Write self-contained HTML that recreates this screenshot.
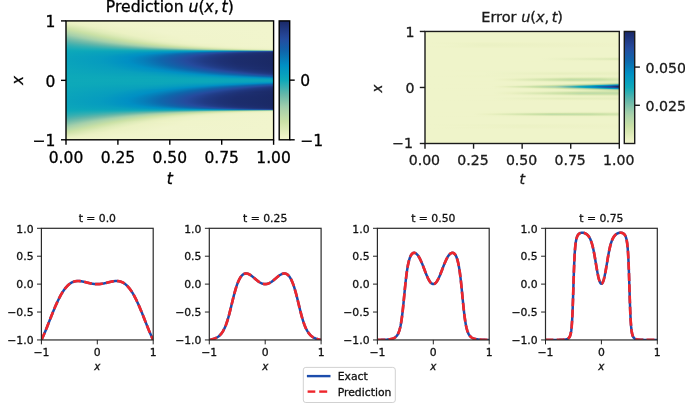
<!DOCTYPE html>
<html lang="en"><head><meta charset="utf-8"><title>Allen-Cahn prediction</title>
<style>html,body{margin:0;padding:0;background:#fff}svg{display:block}text{font-family:"DejaVu Sans","Liberation Sans",sans-serif}</style>
</head><body>
<svg width="685" height="410" viewBox="0 0 685 410">
<rect width="685" height="410" fill="#fff"/>
<defs><linearGradient id="a0"><stop offset="0" stop-color="#f0f4cb"/><stop offset="1" stop-color="#f1f5cd"/></linearGradient><linearGradient id="a1"><stop offset="0" stop-color="#edf2c6"/><stop offset="0.236" stop-color="#f1f5cc"/><stop offset="1" stop-color="#f1f5cd"/></linearGradient><linearGradient id="a2"><stop offset="0" stop-color="#e9f0c2"/><stop offset="0.101" stop-color="#eef3c8"/><stop offset="0.24" stop-color="#f0f5cc"/><stop offset="1" stop-color="#f1f5cd"/></linearGradient><linearGradient id="a3"><stop offset="0" stop-color="#e4edbc"/><stop offset="0.062" stop-color="#ebf1c3"/><stop offset="0.245" stop-color="#f0f4cb"/><stop offset="1" stop-color="#f1f5cd"/></linearGradient><linearGradient id="a4"><stop offset="0" stop-color="#deeab7"/><stop offset="0.091" stop-color="#ebf1c3"/><stop offset="0.25" stop-color="#f0f4cb"/><stop offset="1" stop-color="#f1f5cd"/></linearGradient><linearGradient id="a5"><stop offset="0" stop-color="#d8e7b2"/><stop offset="0.12" stop-color="#ebf1c3"/><stop offset="0.255" stop-color="#eff4ca"/><stop offset="1" stop-color="#f1f5cd"/></linearGradient><linearGradient id="a6"><stop offset="0" stop-color="#d2e4ac"/><stop offset="0.115" stop-color="#e7efc0"/><stop offset="0.212" stop-color="#eef3c7"/><stop offset="0.423" stop-color="#f1f5cc"/><stop offset="1" stop-color="#f1f5cd"/></linearGradient><linearGradient id="a7"><stop offset="0" stop-color="#cce1a6"/><stop offset="0.115" stop-color="#e4edbc"/><stop offset="0.173" stop-color="#ebf1c3"/><stop offset="0.216" stop-color="#edf2c6"/><stop offset="0.428" stop-color="#f0f5cc"/><stop offset="1" stop-color="#f1f5cd"/></linearGradient><linearGradient id="a8"><stop offset="0" stop-color="#c5dea7"/><stop offset="0.024" stop-color="#cce1a7"/><stop offset="0.111" stop-color="#dfebb8"/><stop offset="0.216" stop-color="#ecf2c5"/><stop offset="0.428" stop-color="#f0f5cc"/><stop offset="1" stop-color="#f1f5cd"/></linearGradient><linearGradient id="a9"><stop offset="0" stop-color="#bedba8"/><stop offset="0.043" stop-color="#cbe1a6"/><stop offset="0.135" stop-color="#dfebb8"/><stop offset="0.221" stop-color="#ebf1c3"/><stop offset="0.438" stop-color="#f0f4cc"/><stop offset="1" stop-color="#f1f5cd"/></linearGradient><linearGradient id="a10"><stop offset="0" stop-color="#b7d8a9"/><stop offset="0.067" stop-color="#cbe1a6"/><stop offset="0.154" stop-color="#dfebb8"/><stop offset="0.24" stop-color="#ebf1c3"/><stop offset="0.452" stop-color="#f0f4cc"/><stop offset="1" stop-color="#f1f5cd"/></linearGradient><linearGradient id="a11"><stop offset="0" stop-color="#b0d5aa"/><stop offset="0.087" stop-color="#cae1a6"/><stop offset="0.178" stop-color="#dfebb8"/><stop offset="0.264" stop-color="#ebf1c3"/><stop offset="0.471" stop-color="#f0f4cc"/><stop offset="1" stop-color="#f1f5cd"/></linearGradient><linearGradient id="a12"><stop offset="0" stop-color="#a9d2aa"/><stop offset="0.111" stop-color="#cbe1a6"/><stop offset="0.197" stop-color="#dfebb8"/><stop offset="0.284" stop-color="#ebf1c3"/><stop offset="0.49" stop-color="#f0f4cc"/><stop offset="1" stop-color="#f1f5cd"/></linearGradient><linearGradient id="a13"><stop offset="0" stop-color="#a1ceab"/><stop offset="0.13" stop-color="#cae1a6"/><stop offset="0.221" stop-color="#dfebb8"/><stop offset="0.308" stop-color="#ebf1c3"/><stop offset="0.51" stop-color="#f0f4cc"/><stop offset="1" stop-color="#f1f5cd"/></linearGradient><linearGradient id="a14"><stop offset="0" stop-color="#95caab"/><stop offset="0.034" stop-color="#a6d0ab"/><stop offset="0.154" stop-color="#cbe1a6"/><stop offset="0.24" stop-color="#deebb7"/><stop offset="0.327" stop-color="#ebf1c3"/><stop offset="0.529" stop-color="#f0f4cb"/><stop offset="1" stop-color="#f1f5cd"/></linearGradient><linearGradient id="a15"><stop offset="0" stop-color="#8bc6aa"/><stop offset="0.058" stop-color="#a6d0ab"/><stop offset="0.178" stop-color="#cbe1a6"/><stop offset="0.264" stop-color="#deebb8"/><stop offset="0.351" stop-color="#ebf1c3"/><stop offset="0.548" stop-color="#f0f4cb"/><stop offset="1" stop-color="#f1f5cd"/></linearGradient><linearGradient id="a16"><stop offset="0" stop-color="#80c1aa"/><stop offset="0.082" stop-color="#a6d0ab"/><stop offset="0.202" stop-color="#cbe1a6"/><stop offset="0.284" stop-color="#ddeab7"/><stop offset="0.365" stop-color="#eaf0c2"/><stop offset="0.558" stop-color="#f0f4cb"/><stop offset="1" stop-color="#f1f5cd"/></linearGradient><linearGradient id="a17"><stop offset="0" stop-color="#76bdaa"/><stop offset="0.106" stop-color="#a6d0ab"/><stop offset="0.226" stop-color="#cae1a6"/><stop offset="0.303" stop-color="#dceab6"/><stop offset="0.38" stop-color="#e8f0c1"/><stop offset="0.462" stop-color="#edf3c7"/><stop offset="0.572" stop-color="#f0f4cb"/><stop offset="1" stop-color="#f1f5cd"/></linearGradient><linearGradient id="a18"><stop offset="0" stop-color="#6cbaa9"/><stop offset="0.062" stop-color="#85c3aa"/><stop offset="0.13" stop-color="#a5d0ab"/><stop offset="0.255" stop-color="#cbe1a6"/><stop offset="0.327" stop-color="#dce9b5"/><stop offset="0.394" stop-color="#e7efbf"/><stop offset="0.447" stop-color="#ecf2c4"/><stop offset="0.587" stop-color="#f0f4cb"/><stop offset="1" stop-color="#f1f5cd"/></linearGradient><linearGradient id="a19"><stop offset="0" stop-color="#63b6a9"/><stop offset="0.077" stop-color="#7fc1aa"/><stop offset="0.159" stop-color="#a5d0ab"/><stop offset="0.284" stop-color="#cbe1a6"/><stop offset="0.413" stop-color="#e6eebe"/><stop offset="0.462" stop-color="#ebf1c3"/><stop offset="0.601" stop-color="#eff4ca"/><stop offset="1" stop-color="#f1f5cd"/></linearGradient><linearGradient id="a20"><stop offset="0" stop-color="#58b4ab"/><stop offset="0.101" stop-color="#7cc0aa"/><stop offset="0.188" stop-color="#a4d0ab"/><stop offset="0.312" stop-color="#cbe1a6"/><stop offset="0.433" stop-color="#e4eebd"/><stop offset="0.49" stop-color="#ebf1c3"/><stop offset="0.62" stop-color="#eff4ca"/><stop offset="1" stop-color="#f1f5cd"/></linearGradient><linearGradient id="a21"><stop offset="0" stop-color="#4db3ad"/><stop offset="0.062" stop-color="#63b6a9"/><stop offset="0.13" stop-color="#7bbfaa"/><stop offset="0.221" stop-color="#a5d0ab"/><stop offset="0.346" stop-color="#cbe1a6"/><stop offset="0.452" stop-color="#e2ecbb"/><stop offset="0.519" stop-color="#ebf1c3"/><stop offset="0.635" stop-color="#eff4ca"/><stop offset="1" stop-color="#f1f5cd"/></linearGradient><linearGradient id="a22"><stop offset="0" stop-color="#43b1af"/><stop offset="0.106" stop-color="#65b7a9"/><stop offset="0.178" stop-color="#80c1aa"/><stop offset="0.26" stop-color="#a6d0ab"/><stop offset="0.38" stop-color="#cae1a6"/><stop offset="0.476" stop-color="#e0ebb9"/><stop offset="0.558" stop-color="#ebf1c3"/><stop offset="0.654" stop-color="#eff3c9"/><stop offset="1" stop-color="#f1f5cd"/></linearGradient><linearGradient id="a23"><stop offset="0" stop-color="#39b0b1"/><stop offset="0.072" stop-color="#4cb2ad"/><stop offset="0.139" stop-color="#63b6a9"/><stop offset="0.216" stop-color="#7fc1aa"/><stop offset="0.298" stop-color="#a5d0ab"/><stop offset="0.418" stop-color="#cae1a6"/><stop offset="0.51" stop-color="#dfebb8"/><stop offset="0.587" stop-color="#eaf0c2"/><stop offset="0.639" stop-color="#edf2c6"/><stop offset="0.774" stop-color="#f0f4cb"/><stop offset="1" stop-color="#f1f5cd"/></linearGradient><linearGradient id="a24"><stop offset="0" stop-color="#30aeb2"/><stop offset="0.096" stop-color="#46b2ae"/><stop offset="0.188" stop-color="#64b6a9"/><stop offset="0.26" stop-color="#7ec1aa"/><stop offset="0.346" stop-color="#a6d0ab"/><stop offset="0.466" stop-color="#cbe1a6"/><stop offset="0.543" stop-color="#dceab6"/><stop offset="0.611" stop-color="#e7efc0"/><stop offset="0.663" stop-color="#ecf2c5"/><stop offset="0.793" stop-color="#f0f4cb"/><stop offset="1" stop-color="#f1f5cd"/></linearGradient><linearGradient id="a25"><stop offset="0" stop-color="#28adb4"/><stop offset="0.091" stop-color="#38afb1"/><stop offset="0.173" stop-color="#4cb3ad"/><stop offset="0.236" stop-color="#62b6a9"/><stop offset="0.303" stop-color="#7abfaa"/><stop offset="0.399" stop-color="#a6d0ab"/><stop offset="0.519" stop-color="#cbe1a6"/><stop offset="0.591" stop-color="#dbe9b5"/><stop offset="0.697" stop-color="#ebf1c3"/><stop offset="0.817" stop-color="#eff4ca"/><stop offset="1" stop-color="#f1f5cc"/></linearGradient><linearGradient id="a26"><stop offset="0" stop-color="#21acb5"/><stop offset="0.125" stop-color="#32afb2"/><stop offset="0.226" stop-color="#49b2ae"/><stop offset="0.303" stop-color="#63b6a9"/><stop offset="0.365" stop-color="#79bfaa"/><stop offset="0.462" stop-color="#a5d0ab"/><stop offset="0.587" stop-color="#cbe1a6"/><stop offset="0.649" stop-color="#dae8b3"/><stop offset="0.764" stop-color="#ebf1c3"/><stop offset="0.865" stop-color="#eff3c9"/><stop offset="1" stop-color="#f0f5cc"/></linearGradient><linearGradient id="a27"><stop offset="0" stop-color="#1aabb7"/><stop offset="0.159" stop-color="#2aadb4"/><stop offset="0.288" stop-color="#43b1af"/><stop offset="0.394" stop-color="#65b7a9"/><stop offset="0.466" stop-color="#80c1aa"/><stop offset="0.548" stop-color="#a5d0ab"/><stop offset="0.673" stop-color="#cbe1a6"/><stop offset="0.726" stop-color="#d8e7b1"/><stop offset="0.851" stop-color="#ebf1c3"/><stop offset="1" stop-color="#eff4ca"/></linearGradient><linearGradient id="a28"><stop offset="0" stop-color="#14aab8"/><stop offset="0.216" stop-color="#21acb5"/><stop offset="0.303" stop-color="#2caeb3"/><stop offset="0.375" stop-color="#39b0b1"/><stop offset="0.447" stop-color="#4bb2ad"/><stop offset="0.519" stop-color="#64b6a9"/><stop offset="0.596" stop-color="#80c1aa"/><stop offset="0.678" stop-color="#a5d0ab"/><stop offset="0.784" stop-color="#c4dea7"/><stop offset="0.808" stop-color="#cbe1a6"/><stop offset="0.889" stop-color="#dceab6"/><stop offset="1" stop-color="#ebf1c3"/></linearGradient><linearGradient id="a29"><stop offset="0" stop-color="#0fa9b9"/><stop offset="0.365" stop-color="#16aab7"/><stop offset="0.49" stop-color="#1dabb6"/><stop offset="0.591" stop-color="#28adb4"/><stop offset="0.673" stop-color="#35afb2"/><stop offset="0.745" stop-color="#45b2af"/><stop offset="0.841" stop-color="#63b6a9"/><stop offset="1" stop-color="#93c9aa"/></linearGradient><linearGradient id="a30"><stop offset="0" stop-color="#0da8b9"/><stop offset="0.38" stop-color="#0aa3bc"/><stop offset="0.62" stop-color="#0295c2"/><stop offset="0.663" stop-color="#0090c4"/><stop offset="0.764" stop-color="#0879b7"/><stop offset="0.832" stop-color="#0e67ac"/><stop offset="0.976" stop-color="#254b9d"/><stop offset="1" stop-color="#244798"/></linearGradient><linearGradient id="a31"><stop offset="0" stop-color="#0ca7ba"/><stop offset="0.293" stop-color="#08a0bd"/><stop offset="0.5" stop-color="#0090c4"/><stop offset="0.577" stop-color="#067eba"/><stop offset="0.659" stop-color="#0e67ac"/><stop offset="0.788" stop-color="#254a9c"/><stop offset="0.894" stop-color="#203880"/><stop offset="1" stop-color="#1d2e70"/></linearGradient><linearGradient id="a32"><stop offset="0" stop-color="#0ba6ba"/><stop offset="0.245" stop-color="#089fbe"/><stop offset="0.423" stop-color="#0090c4"/><stop offset="0.5" stop-color="#067eba"/><stop offset="0.577" stop-color="#0e68ad"/><stop offset="0.707" stop-color="#254a9d"/><stop offset="0.774" stop-color="#213d89"/><stop offset="0.841" stop-color="#1f347a"/><stop offset="0.923" stop-color="#1d2e6f"/><stop offset="1" stop-color="#1b2b69"/></linearGradient><linearGradient id="a33"><stop offset="0" stop-color="#0ba5bb"/><stop offset="0.212" stop-color="#079ebe"/><stop offset="0.375" stop-color="#0090c4"/><stop offset="0.452" stop-color="#067fba"/><stop offset="0.534" stop-color="#0e67ac"/><stop offset="0.659" stop-color="#254a9d"/><stop offset="0.726" stop-color="#213d88"/><stop offset="0.784" stop-color="#1f357c"/><stop offset="0.841" stop-color="#1d3073"/><stop offset="1" stop-color="#1b2a67"/></linearGradient><linearGradient id="a34"><stop offset="0" stop-color="#0ba5bb"/><stop offset="0.197" stop-color="#079dbe"/><stop offset="0.346" stop-color="#0090c4"/><stop offset="0.423" stop-color="#067eb9"/><stop offset="0.5" stop-color="#0e67ac"/><stop offset="0.625" stop-color="#254a9d"/><stop offset="0.702" stop-color="#213c86"/><stop offset="0.764" stop-color="#1f3479"/><stop offset="0.827" stop-color="#1d2e71"/><stop offset="1" stop-color="#1a2966"/></linearGradient><linearGradient id="a35"><stop offset="0" stop-color="#0aa4bb"/><stop offset="0.183" stop-color="#069cbf"/><stop offset="0.327" stop-color="#008fc4"/><stop offset="0.399" stop-color="#067fba"/><stop offset="0.481" stop-color="#0e67ac"/><stop offset="0.606" stop-color="#254a9d"/><stop offset="0.688" stop-color="#213b85"/><stop offset="0.755" stop-color="#1e3377"/><stop offset="0.827" stop-color="#1d2d6e"/><stop offset="1" stop-color="#1a2966"/></linearGradient><linearGradient id="a36"><stop offset="0" stop-color="#0aa4bb"/><stop offset="0.178" stop-color="#069cbf"/><stop offset="0.312" stop-color="#008fc4"/><stop offset="0.389" stop-color="#067eb9"/><stop offset="0.466" stop-color="#0e67ac"/><stop offset="0.591" stop-color="#254a9d"/><stop offset="0.678" stop-color="#203a84"/><stop offset="0.745" stop-color="#1e3277"/><stop offset="0.817" stop-color="#1c2d6e"/><stop offset="1" stop-color="#1a2965"/></linearGradient><linearGradient id="a37"><stop offset="0" stop-color="#0aa3bb"/><stop offset="0.168" stop-color="#069cbf"/><stop offset="0.303" stop-color="#0090c4"/><stop offset="0.38" stop-color="#067eb9"/><stop offset="0.457" stop-color="#0e67ac"/><stop offset="0.582" stop-color="#254a9d"/><stop offset="0.668" stop-color="#213a84"/><stop offset="0.736" stop-color="#1e3277"/><stop offset="0.812" stop-color="#1c2d6d"/><stop offset="1" stop-color="#1a2965"/></linearGradient><linearGradient id="a38"><stop offset="0" stop-color="#0aa3bb"/><stop offset="0.163" stop-color="#069cbf"/><stop offset="0.298" stop-color="#0090c4"/><stop offset="0.375" stop-color="#067eb9"/><stop offset="0.452" stop-color="#0e67ac"/><stop offset="0.577" stop-color="#254a9d"/><stop offset="0.668" stop-color="#203a83"/><stop offset="0.736" stop-color="#1e3276"/><stop offset="0.812" stop-color="#1c2d6d"/><stop offset="1" stop-color="#1a2965"/></linearGradient><linearGradient id="a39"><stop offset="0" stop-color="#0aa3bb"/><stop offset="0.168" stop-color="#069cbf"/><stop offset="0.298" stop-color="#0090c4"/><stop offset="0.375" stop-color="#067eb9"/><stop offset="0.452" stop-color="#0e67ac"/><stop offset="0.577" stop-color="#254a9d"/><stop offset="0.668" stop-color="#203a83"/><stop offset="0.736" stop-color="#1e3276"/><stop offset="0.812" stop-color="#1c2d6d"/><stop offset="1" stop-color="#1a2965"/></linearGradient><linearGradient id="a40"><stop offset="0" stop-color="#0aa3bb"/><stop offset="0.168" stop-color="#069cbf"/><stop offset="0.303" stop-color="#008fc4"/><stop offset="0.375" stop-color="#067fba"/><stop offset="0.452" stop-color="#0e68ad"/><stop offset="0.582" stop-color="#254a9d"/><stop offset="0.668" stop-color="#203a83"/><stop offset="0.736" stop-color="#1e3276"/><stop offset="0.812" stop-color="#1c2d6d"/><stop offset="1" stop-color="#1a2965"/></linearGradient><linearGradient id="a41"><stop offset="0" stop-color="#0aa4bb"/><stop offset="0.173" stop-color="#069cbf"/><stop offset="0.308" stop-color="#008fc4"/><stop offset="0.385" stop-color="#067eb9"/><stop offset="0.462" stop-color="#0e67ac"/><stop offset="0.587" stop-color="#254a9d"/><stop offset="0.673" stop-color="#203a84"/><stop offset="0.74" stop-color="#1e3277"/><stop offset="0.817" stop-color="#1c2d6d"/><stop offset="1" stop-color="#1a2965"/></linearGradient><linearGradient id="a42"><stop offset="0" stop-color="#0aa4bb"/><stop offset="0.178" stop-color="#069cbf"/><stop offset="0.317" stop-color="#008fc4"/><stop offset="0.389" stop-color="#067fba"/><stop offset="0.471" stop-color="#0e67ac"/><stop offset="0.596" stop-color="#254a9d"/><stop offset="0.678" stop-color="#213b85"/><stop offset="0.745" stop-color="#1e3277"/><stop offset="0.822" stop-color="#1c2d6e"/><stop offset="1" stop-color="#1a2965"/></linearGradient><linearGradient id="a43"><stop offset="0" stop-color="#0aa4bb"/><stop offset="0.183" stop-color="#079dbe"/><stop offset="0.327" stop-color="#0090c4"/><stop offset="0.404" stop-color="#067eb9"/><stop offset="0.481" stop-color="#0e67ac"/><stop offset="0.606" stop-color="#254a9d"/><stop offset="0.688" stop-color="#213b85"/><stop offset="0.755" stop-color="#1e3377"/><stop offset="0.827" stop-color="#1d2d6e"/><stop offset="1" stop-color="#1a2966"/></linearGradient><linearGradient id="a44"><stop offset="0" stop-color="#0ba5bb"/><stop offset="0.192" stop-color="#079dbe"/><stop offset="0.341" stop-color="#0090c4"/><stop offset="0.418" stop-color="#067eb9"/><stop offset="0.495" stop-color="#0e67ac"/><stop offset="0.62" stop-color="#254a9d"/><stop offset="0.697" stop-color="#213c86"/><stop offset="0.764" stop-color="#1e3378"/><stop offset="0.837" stop-color="#1d2e6f"/><stop offset="1" stop-color="#1a2966"/></linearGradient><linearGradient id="a45"><stop offset="0" stop-color="#0ba5bb"/><stop offset="0.207" stop-color="#079dbe"/><stop offset="0.361" stop-color="#008fc4"/><stop offset="0.438" stop-color="#067eb9"/><stop offset="0.514" stop-color="#0e67ac"/><stop offset="0.639" stop-color="#254a9d"/><stop offset="0.712" stop-color="#213c87"/><stop offset="0.769" stop-color="#1f357b"/><stop offset="0.832" stop-color="#1d2f71"/><stop offset="1" stop-color="#1a2a66"/></linearGradient><linearGradient id="a46"><stop offset="0" stop-color="#0ba5bb"/><stop offset="0.216" stop-color="#079ebe"/><stop offset="0.38" stop-color="#0090c4"/><stop offset="0.457" stop-color="#067eb9"/><stop offset="0.534" stop-color="#0e67ac"/><stop offset="0.659" stop-color="#254a9d"/><stop offset="0.726" stop-color="#213d89"/><stop offset="0.784" stop-color="#1f357c"/><stop offset="0.841" stop-color="#1d3073"/><stop offset="1" stop-color="#1b2a67"/></linearGradient><linearGradient id="a47"><stop offset="0" stop-color="#0ba6ba"/><stop offset="0.231" stop-color="#079ebe"/><stop offset="0.404" stop-color="#0090c4"/><stop offset="0.481" stop-color="#067eb9"/><stop offset="0.558" stop-color="#0e67ac"/><stop offset="0.683" stop-color="#254a9d"/><stop offset="0.755" stop-color="#213d87"/><stop offset="0.827" stop-color="#1e3378"/><stop offset="0.913" stop-color="#1c2d6d"/><stop offset="1" stop-color="#1b2a68"/></linearGradient><linearGradient id="a48"><stop offset="0" stop-color="#0ca6ba"/><stop offset="0.255" stop-color="#089ebe"/><stop offset="0.433" stop-color="#008fc4"/><stop offset="0.505" stop-color="#067fba"/><stop offset="0.587" stop-color="#0e67ac"/><stop offset="0.712" stop-color="#254a9d"/><stop offset="0.779" stop-color="#213d88"/><stop offset="0.846" stop-color="#1f347a"/><stop offset="0.923" stop-color="#1d2e6f"/><stop offset="1" stop-color="#1b2b69"/></linearGradient><linearGradient id="a49"><stop offset="0" stop-color="#0ca7ba"/><stop offset="0.269" stop-color="#089fbd"/><stop offset="0.462" stop-color="#0090c4"/><stop offset="0.538" stop-color="#067eba"/><stop offset="0.615" stop-color="#0e67ac"/><stop offset="0.74" stop-color="#254a9d"/><stop offset="0.808" stop-color="#213e89"/><stop offset="0.865" stop-color="#1f357c"/><stop offset="1" stop-color="#1c2c6b"/></linearGradient><linearGradient id="a50"><stop offset="0" stop-color="#0ca7ba"/><stop offset="0.298" stop-color="#08a0bd"/><stop offset="0.5" stop-color="#008fc4"/><stop offset="0.577" stop-color="#067eb9"/><stop offset="0.654" stop-color="#0e67ac"/><stop offset="0.779" stop-color="#254a9d"/><stop offset="0.885" stop-color="#20387f"/><stop offset="1" stop-color="#1d2d6e"/></linearGradient><linearGradient id="a51"><stop offset="0" stop-color="#0ca7ba"/><stop offset="0.322" stop-color="#09a0bd"/><stop offset="0.438" stop-color="#059ac0"/><stop offset="0.538" stop-color="#0090c4"/><stop offset="0.615" stop-color="#067eba"/><stop offset="0.692" stop-color="#0e68ac"/><stop offset="0.822" stop-color="#254a9c"/><stop offset="0.909" stop-color="#203a83"/><stop offset="1" stop-color="#1e3073"/></linearGradient><linearGradient id="a52"><stop offset="0" stop-color="#0ca8b9"/><stop offset="0.356" stop-color="#09a1bc"/><stop offset="0.481" stop-color="#059ac0"/><stop offset="0.587" stop-color="#0090c4"/><stop offset="0.663" stop-color="#067eba"/><stop offset="0.74" stop-color="#0e68ad"/><stop offset="0.87" stop-color="#254a9c"/><stop offset="0.938" stop-color="#213d88"/><stop offset="1" stop-color="#1f357a"/></linearGradient><linearGradient id="a53"><stop offset="0" stop-color="#0da8b9"/><stop offset="0.38" stop-color="#0aa2bc"/><stop offset="0.51" stop-color="#069cbf"/><stop offset="0.62" stop-color="#0193c3"/><stop offset="0.663" stop-color="#018cc2"/><stop offset="0.798" stop-color="#0e68ac"/><stop offset="0.923" stop-color="#254b9d"/><stop offset="1" stop-color="#213c87"/></linearGradient><linearGradient id="a54"><stop offset="0" stop-color="#0da9b9"/><stop offset="0.413" stop-color="#0aa3bb"/><stop offset="0.548" stop-color="#079ebe"/><stop offset="0.663" stop-color="#0395c2"/><stop offset="0.716" stop-color="#008fc4"/><stop offset="0.827" stop-color="#0a74b4"/><stop offset="0.87" stop-color="#0e67ac"/><stop offset="1" stop-color="#25499b"/></linearGradient><linearGradient id="a55"><stop offset="0" stop-color="#0da9b9"/><stop offset="0.442" stop-color="#0ba5bb"/><stop offset="0.697" stop-color="#059ac0"/><stop offset="0.798" stop-color="#0090c4"/><stop offset="0.875" stop-color="#067eb9"/><stop offset="0.952" stop-color="#0e67ac"/><stop offset="1" stop-color="#175ca6"/></linearGradient><linearGradient id="a56"><stop offset="0" stop-color="#0da9b9"/><stop offset="0.447" stop-color="#0ca7ba"/><stop offset="0.707" stop-color="#08a0bd"/><stop offset="0.904" stop-color="#0090c4"/><stop offset="1" stop-color="#0879b6"/></linearGradient><linearGradient id="a57"><stop offset="0" stop-color="#0da9b9"/><stop offset="0.678" stop-color="#0ba5bb"/><stop offset="0.861" stop-color="#089fbd"/><stop offset="1" stop-color="#0395c2"/></linearGradient><linearGradient id="a58"><stop offset="0" stop-color="#0ea9b9"/><stop offset="0.683" stop-color="#0ca8b9"/><stop offset="1" stop-color="#09a2bc"/></linearGradient><linearGradient id="a59"><stop offset="0" stop-color="#0ea9b9"/><stop offset="1" stop-color="#0ba6ba"/></linearGradient><linearGradient id="a60"><stop offset="0" stop-color="#0ea9b9"/><stop offset="0.683" stop-color="#0ca8b9"/><stop offset="1" stop-color="#09a2bc"/></linearGradient><linearGradient id="a61"><stop offset="0" stop-color="#0da9b9"/><stop offset="0.678" stop-color="#0ba5bb"/><stop offset="0.861" stop-color="#089fbd"/><stop offset="1" stop-color="#0395c2"/></linearGradient><linearGradient id="a62"><stop offset="0" stop-color="#0da9b9"/><stop offset="0.447" stop-color="#0ca7ba"/><stop offset="0.707" stop-color="#08a0bd"/><stop offset="0.904" stop-color="#0090c4"/><stop offset="1" stop-color="#0879b6"/></linearGradient><linearGradient id="a63"><stop offset="0" stop-color="#0da9b9"/><stop offset="0.442" stop-color="#0ba5bb"/><stop offset="0.697" stop-color="#059ac0"/><stop offset="0.798" stop-color="#0090c4"/><stop offset="0.875" stop-color="#067eb9"/><stop offset="0.952" stop-color="#0e67ac"/><stop offset="1" stop-color="#175ca6"/></linearGradient><linearGradient id="a64"><stop offset="0" stop-color="#0da9b9"/><stop offset="0.413" stop-color="#0aa3bb"/><stop offset="0.548" stop-color="#079ebe"/><stop offset="0.663" stop-color="#0395c2"/><stop offset="0.716" stop-color="#008fc4"/><stop offset="0.827" stop-color="#0a74b4"/><stop offset="0.87" stop-color="#0e67ac"/><stop offset="1" stop-color="#25499b"/></linearGradient><linearGradient id="a65"><stop offset="0" stop-color="#0da8b9"/><stop offset="0.38" stop-color="#0aa2bc"/><stop offset="0.51" stop-color="#069cbf"/><stop offset="0.62" stop-color="#0193c3"/><stop offset="0.663" stop-color="#018cc2"/><stop offset="0.798" stop-color="#0e68ac"/><stop offset="0.923" stop-color="#254b9d"/><stop offset="1" stop-color="#213c87"/></linearGradient><linearGradient id="a66"><stop offset="0" stop-color="#0ca8b9"/><stop offset="0.356" stop-color="#09a1bc"/><stop offset="0.481" stop-color="#059ac0"/><stop offset="0.587" stop-color="#0090c4"/><stop offset="0.663" stop-color="#067eba"/><stop offset="0.74" stop-color="#0e68ad"/><stop offset="0.87" stop-color="#254a9c"/><stop offset="0.938" stop-color="#213d88"/><stop offset="1" stop-color="#1f357a"/></linearGradient><linearGradient id="a67"><stop offset="0" stop-color="#0ca7ba"/><stop offset="0.322" stop-color="#09a0bd"/><stop offset="0.438" stop-color="#059ac0"/><stop offset="0.538" stop-color="#0090c4"/><stop offset="0.615" stop-color="#067eba"/><stop offset="0.692" stop-color="#0e68ac"/><stop offset="0.822" stop-color="#254a9c"/><stop offset="0.909" stop-color="#203a83"/><stop offset="1" stop-color="#1e3073"/></linearGradient><linearGradient id="a68"><stop offset="0" stop-color="#0ca7ba"/><stop offset="0.298" stop-color="#08a0bd"/><stop offset="0.5" stop-color="#008fc4"/><stop offset="0.577" stop-color="#067eb9"/><stop offset="0.654" stop-color="#0e67ac"/><stop offset="0.779" stop-color="#254a9d"/><stop offset="0.885" stop-color="#20387f"/><stop offset="1" stop-color="#1d2d6e"/></linearGradient><linearGradient id="a69"><stop offset="0" stop-color="#0ca7ba"/><stop offset="0.269" stop-color="#089fbd"/><stop offset="0.462" stop-color="#0090c4"/><stop offset="0.538" stop-color="#067eba"/><stop offset="0.615" stop-color="#0e67ac"/><stop offset="0.74" stop-color="#254a9d"/><stop offset="0.808" stop-color="#213e89"/><stop offset="0.865" stop-color="#1f357c"/><stop offset="1" stop-color="#1c2c6b"/></linearGradient><linearGradient id="a70"><stop offset="0" stop-color="#0ca6ba"/><stop offset="0.255" stop-color="#089ebe"/><stop offset="0.433" stop-color="#008fc4"/><stop offset="0.505" stop-color="#067fba"/><stop offset="0.587" stop-color="#0e67ac"/><stop offset="0.712" stop-color="#254a9d"/><stop offset="0.779" stop-color="#213d88"/><stop offset="0.846" stop-color="#1f347a"/><stop offset="0.923" stop-color="#1d2e6f"/><stop offset="1" stop-color="#1b2b69"/></linearGradient><linearGradient id="a71"><stop offset="0" stop-color="#0ba6ba"/><stop offset="0.231" stop-color="#079ebe"/><stop offset="0.404" stop-color="#0090c4"/><stop offset="0.481" stop-color="#067eb9"/><stop offset="0.558" stop-color="#0e67ac"/><stop offset="0.683" stop-color="#254a9d"/><stop offset="0.755" stop-color="#213d87"/><stop offset="0.827" stop-color="#1e3378"/><stop offset="0.913" stop-color="#1c2d6d"/><stop offset="1" stop-color="#1b2a68"/></linearGradient><linearGradient id="a72"><stop offset="0" stop-color="#0ba5bb"/><stop offset="0.216" stop-color="#079ebe"/><stop offset="0.38" stop-color="#0090c4"/><stop offset="0.457" stop-color="#067eb9"/><stop offset="0.534" stop-color="#0e67ac"/><stop offset="0.659" stop-color="#254a9d"/><stop offset="0.726" stop-color="#213d89"/><stop offset="0.784" stop-color="#1f357c"/><stop offset="0.841" stop-color="#1d3073"/><stop offset="1" stop-color="#1b2a67"/></linearGradient><linearGradient id="a73"><stop offset="0" stop-color="#0ba5bb"/><stop offset="0.207" stop-color="#079dbe"/><stop offset="0.361" stop-color="#008fc4"/><stop offset="0.438" stop-color="#067eb9"/><stop offset="0.514" stop-color="#0e67ac"/><stop offset="0.639" stop-color="#254a9d"/><stop offset="0.712" stop-color="#213c87"/><stop offset="0.769" stop-color="#1f357b"/><stop offset="0.832" stop-color="#1d2f71"/><stop offset="1" stop-color="#1a2a66"/></linearGradient><linearGradient id="a74"><stop offset="0" stop-color="#0ba5bb"/><stop offset="0.192" stop-color="#079dbe"/><stop offset="0.341" stop-color="#0090c4"/><stop offset="0.418" stop-color="#067eb9"/><stop offset="0.495" stop-color="#0e67ac"/><stop offset="0.62" stop-color="#254a9d"/><stop offset="0.697" stop-color="#213c86"/><stop offset="0.764" stop-color="#1e3378"/><stop offset="0.837" stop-color="#1d2e6f"/><stop offset="1" stop-color="#1a2966"/></linearGradient><linearGradient id="a75"><stop offset="0" stop-color="#0aa4bb"/><stop offset="0.183" stop-color="#079dbe"/><stop offset="0.327" stop-color="#0090c4"/><stop offset="0.404" stop-color="#067eb9"/><stop offset="0.481" stop-color="#0e67ac"/><stop offset="0.606" stop-color="#254a9d"/><stop offset="0.688" stop-color="#213b85"/><stop offset="0.755" stop-color="#1e3377"/><stop offset="0.827" stop-color="#1d2d6e"/><stop offset="1" stop-color="#1a2966"/></linearGradient><linearGradient id="a76"><stop offset="0" stop-color="#0aa4bb"/><stop offset="0.178" stop-color="#069cbf"/><stop offset="0.317" stop-color="#008fc4"/><stop offset="0.389" stop-color="#067fba"/><stop offset="0.471" stop-color="#0e67ac"/><stop offset="0.596" stop-color="#254a9d"/><stop offset="0.678" stop-color="#213b85"/><stop offset="0.745" stop-color="#1e3277"/><stop offset="0.822" stop-color="#1c2d6e"/><stop offset="1" stop-color="#1a2965"/></linearGradient><linearGradient id="a77"><stop offset="0" stop-color="#0aa4bb"/><stop offset="0.173" stop-color="#069cbf"/><stop offset="0.308" stop-color="#008fc4"/><stop offset="0.385" stop-color="#067eb9"/><stop offset="0.462" stop-color="#0e67ac"/><stop offset="0.587" stop-color="#254a9d"/><stop offset="0.673" stop-color="#203a84"/><stop offset="0.74" stop-color="#1e3277"/><stop offset="0.817" stop-color="#1c2d6d"/><stop offset="1" stop-color="#1a2965"/></linearGradient><linearGradient id="a78"><stop offset="0" stop-color="#0aa3bb"/><stop offset="0.168" stop-color="#069cbf"/><stop offset="0.303" stop-color="#008fc4"/><stop offset="0.375" stop-color="#067fba"/><stop offset="0.452" stop-color="#0e68ad"/><stop offset="0.582" stop-color="#254a9d"/><stop offset="0.668" stop-color="#203a83"/><stop offset="0.736" stop-color="#1e3276"/><stop offset="0.812" stop-color="#1c2d6d"/><stop offset="1" stop-color="#1a2965"/></linearGradient><linearGradient id="a79"><stop offset="0" stop-color="#0aa3bb"/><stop offset="0.168" stop-color="#069cbf"/><stop offset="0.298" stop-color="#0090c4"/><stop offset="0.375" stop-color="#067eb9"/><stop offset="0.452" stop-color="#0e67ac"/><stop offset="0.577" stop-color="#254a9d"/><stop offset="0.668" stop-color="#203a83"/><stop offset="0.736" stop-color="#1e3276"/><stop offset="0.812" stop-color="#1c2d6d"/><stop offset="1" stop-color="#1a2965"/></linearGradient><linearGradient id="a80"><stop offset="0" stop-color="#0aa3bb"/><stop offset="0.163" stop-color="#069cbf"/><stop offset="0.298" stop-color="#0090c4"/><stop offset="0.375" stop-color="#067eb9"/><stop offset="0.452" stop-color="#0e67ac"/><stop offset="0.577" stop-color="#254a9d"/><stop offset="0.668" stop-color="#203a83"/><stop offset="0.736" stop-color="#1e3276"/><stop offset="0.812" stop-color="#1c2d6d"/><stop offset="1" stop-color="#1a2965"/></linearGradient><linearGradient id="a81"><stop offset="0" stop-color="#0aa3bb"/><stop offset="0.168" stop-color="#069cbf"/><stop offset="0.303" stop-color="#0090c4"/><stop offset="0.38" stop-color="#067eb9"/><stop offset="0.457" stop-color="#0e67ac"/><stop offset="0.582" stop-color="#254a9d"/><stop offset="0.668" stop-color="#213a84"/><stop offset="0.736" stop-color="#1e3277"/><stop offset="0.812" stop-color="#1c2d6d"/><stop offset="1" stop-color="#1a2965"/></linearGradient><linearGradient id="a82"><stop offset="0" stop-color="#0aa4bb"/><stop offset="0.178" stop-color="#069cbf"/><stop offset="0.312" stop-color="#008fc4"/><stop offset="0.389" stop-color="#067eb9"/><stop offset="0.466" stop-color="#0e67ac"/><stop offset="0.591" stop-color="#254a9d"/><stop offset="0.678" stop-color="#203a84"/><stop offset="0.745" stop-color="#1e3277"/><stop offset="0.817" stop-color="#1c2d6e"/><stop offset="1" stop-color="#1a2965"/></linearGradient><linearGradient id="a83"><stop offset="0" stop-color="#0aa4bb"/><stop offset="0.183" stop-color="#069cbf"/><stop offset="0.327" stop-color="#008fc4"/><stop offset="0.399" stop-color="#067fba"/><stop offset="0.481" stop-color="#0e67ac"/><stop offset="0.606" stop-color="#254a9d"/><stop offset="0.688" stop-color="#213b85"/><stop offset="0.755" stop-color="#1e3377"/><stop offset="0.827" stop-color="#1d2d6e"/><stop offset="1" stop-color="#1a2966"/></linearGradient><linearGradient id="a84"><stop offset="0" stop-color="#0ba5bb"/><stop offset="0.197" stop-color="#079dbe"/><stop offset="0.346" stop-color="#0090c4"/><stop offset="0.423" stop-color="#067eb9"/><stop offset="0.5" stop-color="#0e67ac"/><stop offset="0.625" stop-color="#254a9d"/><stop offset="0.702" stop-color="#213c86"/><stop offset="0.764" stop-color="#1f3479"/><stop offset="0.827" stop-color="#1d2e71"/><stop offset="1" stop-color="#1a2966"/></linearGradient><linearGradient id="a85"><stop offset="0" stop-color="#0ba5bb"/><stop offset="0.212" stop-color="#079ebe"/><stop offset="0.375" stop-color="#0090c4"/><stop offset="0.452" stop-color="#067fba"/><stop offset="0.534" stop-color="#0e67ac"/><stop offset="0.659" stop-color="#254a9d"/><stop offset="0.726" stop-color="#213d88"/><stop offset="0.784" stop-color="#1f357c"/><stop offset="0.841" stop-color="#1d3073"/><stop offset="1" stop-color="#1b2a67"/></linearGradient><linearGradient id="a86"><stop offset="0" stop-color="#0ba6ba"/><stop offset="0.245" stop-color="#089fbe"/><stop offset="0.423" stop-color="#0090c4"/><stop offset="0.5" stop-color="#067eba"/><stop offset="0.577" stop-color="#0e68ad"/><stop offset="0.707" stop-color="#254a9d"/><stop offset="0.774" stop-color="#213d89"/><stop offset="0.841" stop-color="#1f347a"/><stop offset="0.923" stop-color="#1d2e6f"/><stop offset="1" stop-color="#1b2b69"/></linearGradient><linearGradient id="a87"><stop offset="0" stop-color="#0ca7ba"/><stop offset="0.293" stop-color="#08a0bd"/><stop offset="0.5" stop-color="#0090c4"/><stop offset="0.577" stop-color="#067eba"/><stop offset="0.659" stop-color="#0e67ac"/><stop offset="0.788" stop-color="#254a9c"/><stop offset="0.894" stop-color="#203880"/><stop offset="1" stop-color="#1d2e70"/></linearGradient><linearGradient id="a88"><stop offset="0" stop-color="#0da8b9"/><stop offset="0.38" stop-color="#0aa3bc"/><stop offset="0.62" stop-color="#0295c2"/><stop offset="0.663" stop-color="#0090c4"/><stop offset="0.764" stop-color="#0879b7"/><stop offset="0.832" stop-color="#0e67ac"/><stop offset="0.976" stop-color="#254b9d"/><stop offset="1" stop-color="#244798"/></linearGradient><linearGradient id="a89"><stop offset="0" stop-color="#0fa9b9"/><stop offset="0.365" stop-color="#16aab7"/><stop offset="0.49" stop-color="#1dabb6"/><stop offset="0.591" stop-color="#28adb4"/><stop offset="0.673" stop-color="#35afb2"/><stop offset="0.745" stop-color="#45b2af"/><stop offset="0.841" stop-color="#63b6a9"/><stop offset="1" stop-color="#93c9aa"/></linearGradient><linearGradient id="a90"><stop offset="0" stop-color="#14aab8"/><stop offset="0.216" stop-color="#21acb5"/><stop offset="0.303" stop-color="#2caeb3"/><stop offset="0.375" stop-color="#39b0b1"/><stop offset="0.447" stop-color="#4bb2ad"/><stop offset="0.519" stop-color="#64b6a9"/><stop offset="0.596" stop-color="#80c1aa"/><stop offset="0.678" stop-color="#a5d0ab"/><stop offset="0.784" stop-color="#c4dea7"/><stop offset="0.808" stop-color="#cbe1a6"/><stop offset="0.889" stop-color="#dceab6"/><stop offset="1" stop-color="#ebf1c3"/></linearGradient><linearGradient id="a91"><stop offset="0" stop-color="#1aabb7"/><stop offset="0.159" stop-color="#2aadb4"/><stop offset="0.288" stop-color="#43b1af"/><stop offset="0.394" stop-color="#65b7a9"/><stop offset="0.466" stop-color="#80c1aa"/><stop offset="0.548" stop-color="#a5d0ab"/><stop offset="0.673" stop-color="#cbe1a6"/><stop offset="0.726" stop-color="#d8e7b1"/><stop offset="0.851" stop-color="#ebf1c3"/><stop offset="1" stop-color="#eff4ca"/></linearGradient><linearGradient id="a92"><stop offset="0" stop-color="#21acb5"/><stop offset="0.125" stop-color="#32afb2"/><stop offset="0.226" stop-color="#49b2ae"/><stop offset="0.303" stop-color="#63b6a9"/><stop offset="0.365" stop-color="#79bfaa"/><stop offset="0.462" stop-color="#a5d0ab"/><stop offset="0.587" stop-color="#cbe1a6"/><stop offset="0.649" stop-color="#dae8b3"/><stop offset="0.764" stop-color="#ebf1c3"/><stop offset="0.865" stop-color="#eff3c9"/><stop offset="1" stop-color="#f0f5cc"/></linearGradient><linearGradient id="a93"><stop offset="0" stop-color="#28adb4"/><stop offset="0.091" stop-color="#38afb1"/><stop offset="0.173" stop-color="#4cb3ad"/><stop offset="0.236" stop-color="#62b6a9"/><stop offset="0.303" stop-color="#7abfaa"/><stop offset="0.399" stop-color="#a6d0ab"/><stop offset="0.519" stop-color="#cbe1a6"/><stop offset="0.591" stop-color="#dbe9b5"/><stop offset="0.697" stop-color="#ebf1c3"/><stop offset="0.817" stop-color="#eff4ca"/><stop offset="1" stop-color="#f1f5cc"/></linearGradient><linearGradient id="a94"><stop offset="0" stop-color="#30aeb2"/><stop offset="0.096" stop-color="#46b2ae"/><stop offset="0.188" stop-color="#64b6a9"/><stop offset="0.26" stop-color="#7ec1aa"/><stop offset="0.346" stop-color="#a6d0ab"/><stop offset="0.466" stop-color="#cbe1a6"/><stop offset="0.543" stop-color="#dceab6"/><stop offset="0.611" stop-color="#e7efc0"/><stop offset="0.663" stop-color="#ecf2c5"/><stop offset="0.793" stop-color="#f0f4cb"/><stop offset="1" stop-color="#f1f5cd"/></linearGradient><linearGradient id="a95"><stop offset="0" stop-color="#39b0b1"/><stop offset="0.072" stop-color="#4cb2ad"/><stop offset="0.139" stop-color="#63b6a9"/><stop offset="0.216" stop-color="#7fc1aa"/><stop offset="0.298" stop-color="#a5d0ab"/><stop offset="0.418" stop-color="#cae1a6"/><stop offset="0.51" stop-color="#dfebb8"/><stop offset="0.587" stop-color="#eaf0c2"/><stop offset="0.639" stop-color="#edf2c6"/><stop offset="0.774" stop-color="#f0f4cb"/><stop offset="1" stop-color="#f1f5cd"/></linearGradient><linearGradient id="a96"><stop offset="0" stop-color="#43b1af"/><stop offset="0.106" stop-color="#65b7a9"/><stop offset="0.178" stop-color="#80c1aa"/><stop offset="0.26" stop-color="#a6d0ab"/><stop offset="0.38" stop-color="#cae1a6"/><stop offset="0.476" stop-color="#e0ebb9"/><stop offset="0.558" stop-color="#ebf1c3"/><stop offset="0.654" stop-color="#eff3c9"/><stop offset="1" stop-color="#f1f5cd"/></linearGradient><linearGradient id="a97"><stop offset="0" stop-color="#4db3ad"/><stop offset="0.062" stop-color="#63b6a9"/><stop offset="0.13" stop-color="#7bbfaa"/><stop offset="0.221" stop-color="#a5d0ab"/><stop offset="0.346" stop-color="#cbe1a6"/><stop offset="0.452" stop-color="#e2ecbb"/><stop offset="0.519" stop-color="#ebf1c3"/><stop offset="0.635" stop-color="#eff4ca"/><stop offset="1" stop-color="#f1f5cd"/></linearGradient><linearGradient id="a98"><stop offset="0" stop-color="#58b4ab"/><stop offset="0.101" stop-color="#7cc0aa"/><stop offset="0.188" stop-color="#a4d0ab"/><stop offset="0.312" stop-color="#cbe1a6"/><stop offset="0.433" stop-color="#e4eebd"/><stop offset="0.49" stop-color="#ebf1c3"/><stop offset="0.62" stop-color="#eff4ca"/><stop offset="1" stop-color="#f1f5cd"/></linearGradient><linearGradient id="a99"><stop offset="0" stop-color="#63b6a9"/><stop offset="0.077" stop-color="#7fc1aa"/><stop offset="0.159" stop-color="#a5d0ab"/><stop offset="0.284" stop-color="#cbe1a6"/><stop offset="0.413" stop-color="#e6eebe"/><stop offset="0.462" stop-color="#ebf1c3"/><stop offset="0.601" stop-color="#eff4ca"/><stop offset="1" stop-color="#f1f5cd"/></linearGradient><linearGradient id="a100"><stop offset="0" stop-color="#6cbaa9"/><stop offset="0.062" stop-color="#85c3aa"/><stop offset="0.13" stop-color="#a5d0ab"/><stop offset="0.255" stop-color="#cbe1a6"/><stop offset="0.327" stop-color="#dce9b5"/><stop offset="0.394" stop-color="#e7efbf"/><stop offset="0.447" stop-color="#ecf2c4"/><stop offset="0.587" stop-color="#f0f4cb"/><stop offset="1" stop-color="#f1f5cd"/></linearGradient><linearGradient id="a101"><stop offset="0" stop-color="#76bdaa"/><stop offset="0.106" stop-color="#a6d0ab"/><stop offset="0.226" stop-color="#cae1a6"/><stop offset="0.303" stop-color="#dceab6"/><stop offset="0.38" stop-color="#e8f0c1"/><stop offset="0.462" stop-color="#edf3c7"/><stop offset="0.572" stop-color="#f0f4cb"/><stop offset="1" stop-color="#f1f5cd"/></linearGradient><linearGradient id="a102"><stop offset="0" stop-color="#80c1aa"/><stop offset="0.082" stop-color="#a6d0ab"/><stop offset="0.202" stop-color="#cbe1a6"/><stop offset="0.284" stop-color="#ddeab7"/><stop offset="0.365" stop-color="#eaf0c2"/><stop offset="0.558" stop-color="#f0f4cb"/><stop offset="1" stop-color="#f1f5cd"/></linearGradient><linearGradient id="a103"><stop offset="0" stop-color="#8bc6aa"/><stop offset="0.058" stop-color="#a6d0ab"/><stop offset="0.178" stop-color="#cbe1a6"/><stop offset="0.264" stop-color="#deebb8"/><stop offset="0.351" stop-color="#ebf1c3"/><stop offset="0.548" stop-color="#f0f4cb"/><stop offset="1" stop-color="#f1f5cd"/></linearGradient><linearGradient id="a104"><stop offset="0" stop-color="#95caab"/><stop offset="0.034" stop-color="#a6d0ab"/><stop offset="0.154" stop-color="#cbe1a6"/><stop offset="0.24" stop-color="#deebb7"/><stop offset="0.327" stop-color="#ebf1c3"/><stop offset="0.529" stop-color="#f0f4cb"/><stop offset="1" stop-color="#f1f5cd"/></linearGradient><linearGradient id="a105"><stop offset="0" stop-color="#a1ceab"/><stop offset="0.13" stop-color="#cae1a6"/><stop offset="0.221" stop-color="#dfebb8"/><stop offset="0.308" stop-color="#ebf1c3"/><stop offset="0.51" stop-color="#f0f4cc"/><stop offset="1" stop-color="#f1f5cd"/></linearGradient><linearGradient id="a106"><stop offset="0" stop-color="#a9d2aa"/><stop offset="0.111" stop-color="#cbe1a6"/><stop offset="0.197" stop-color="#dfebb8"/><stop offset="0.284" stop-color="#ebf1c3"/><stop offset="0.49" stop-color="#f0f4cc"/><stop offset="1" stop-color="#f1f5cd"/></linearGradient><linearGradient id="a107"><stop offset="0" stop-color="#b0d5aa"/><stop offset="0.087" stop-color="#cae1a6"/><stop offset="0.178" stop-color="#dfebb8"/><stop offset="0.264" stop-color="#ebf1c3"/><stop offset="0.471" stop-color="#f0f4cc"/><stop offset="1" stop-color="#f1f5cd"/></linearGradient><linearGradient id="a108"><stop offset="0" stop-color="#b7d8a9"/><stop offset="0.067" stop-color="#cbe1a6"/><stop offset="0.154" stop-color="#dfebb8"/><stop offset="0.24" stop-color="#ebf1c3"/><stop offset="0.452" stop-color="#f0f4cc"/><stop offset="1" stop-color="#f1f5cd"/></linearGradient><linearGradient id="a109"><stop offset="0" stop-color="#bedba8"/><stop offset="0.043" stop-color="#cbe1a6"/><stop offset="0.135" stop-color="#dfebb8"/><stop offset="0.221" stop-color="#ebf1c3"/><stop offset="0.438" stop-color="#f0f4cc"/><stop offset="1" stop-color="#f1f5cd"/></linearGradient><linearGradient id="a110"><stop offset="0" stop-color="#c5dea7"/><stop offset="0.024" stop-color="#cce1a7"/><stop offset="0.111" stop-color="#dfebb8"/><stop offset="0.216" stop-color="#ecf2c5"/><stop offset="0.428" stop-color="#f0f5cc"/><stop offset="1" stop-color="#f1f5cd"/></linearGradient><linearGradient id="a111"><stop offset="0" stop-color="#cce1a6"/><stop offset="0.115" stop-color="#e4edbc"/><stop offset="0.173" stop-color="#ebf1c3"/><stop offset="0.216" stop-color="#edf2c6"/><stop offset="0.428" stop-color="#f0f5cc"/><stop offset="1" stop-color="#f1f5cd"/></linearGradient><linearGradient id="a112"><stop offset="0" stop-color="#d2e4ac"/><stop offset="0.115" stop-color="#e7efc0"/><stop offset="0.212" stop-color="#eef3c7"/><stop offset="0.423" stop-color="#f1f5cc"/><stop offset="1" stop-color="#f1f5cd"/></linearGradient><linearGradient id="a113"><stop offset="0" stop-color="#d8e7b2"/><stop offset="0.12" stop-color="#ebf1c3"/><stop offset="0.255" stop-color="#eff4ca"/><stop offset="1" stop-color="#f1f5cd"/></linearGradient><linearGradient id="a114"><stop offset="0" stop-color="#deeab7"/><stop offset="0.091" stop-color="#ebf1c3"/><stop offset="0.25" stop-color="#f0f4cb"/><stop offset="1" stop-color="#f1f5cd"/></linearGradient><linearGradient id="a115"><stop offset="0" stop-color="#e4edbc"/><stop offset="0.062" stop-color="#ebf1c3"/><stop offset="0.245" stop-color="#f0f4cb"/><stop offset="1" stop-color="#f1f5cd"/></linearGradient><linearGradient id="a116"><stop offset="0" stop-color="#e9f0c2"/><stop offset="0.101" stop-color="#eef3c8"/><stop offset="0.24" stop-color="#f0f5cc"/><stop offset="1" stop-color="#f1f5cd"/></linearGradient><linearGradient id="a117"><stop offset="0" stop-color="#edf2c6"/><stop offset="0.236" stop-color="#f1f5cc"/><stop offset="1" stop-color="#f1f5cd"/></linearGradient><linearGradient id="a118"><stop offset="0" stop-color="#f0f4cb"/><stop offset="1" stop-color="#f1f5cd"/></linearGradient>
<linearGradient id="acb" x1="0" y1="0" x2="0" y2="1"><stop offset="0.0000" stop-color="#1a2965"/><stop offset="0.0312" stop-color="#1d2f72"/><stop offset="0.0625" stop-color="#1f377e"/><stop offset="0.0938" stop-color="#223e8a"/><stop offset="0.1250" stop-color="#244596"/><stop offset="0.1562" stop-color="#234d9f"/><stop offset="0.1875" stop-color="#1d55a3"/><stop offset="0.2188" stop-color="#165ca7"/><stop offset="0.2500" stop-color="#1064aa"/><stop offset="0.2812" stop-color="#0c6eb0"/><stop offset="0.3125" stop-color="#0879b6"/><stop offset="0.3438" stop-color="#0484bd"/><stop offset="0.3750" stop-color="#008fc3"/><stop offset="0.4062" stop-color="#0396c1"/><stop offset="0.4375" stop-color="#069cbf"/><stop offset="0.4688" stop-color="#0aa3bc"/><stop offset="0.5000" stop-color="#0fa9b9"/><stop offset="0.5312" stop-color="#26adb4"/><stop offset="0.5625" stop-color="#3db0b0"/><stop offset="0.5938" stop-color="#54b4ac"/><stop offset="0.6250" stop-color="#69b8a9"/><stop offset="0.6562" stop-color="#7abfaa"/><stop offset="0.6875" stop-color="#8cc6aa"/><stop offset="0.7188" stop-color="#9dcdab"/><stop offset="0.7500" stop-color="#abd2aa"/><stop offset="0.7812" stop-color="#b5d7a9"/><stop offset="0.8125" stop-color="#bfdca8"/><stop offset="0.8438" stop-color="#c9e0a6"/><stop offset="0.8750" stop-color="#d2e5ad"/><stop offset="0.9062" stop-color="#dbe9b5"/><stop offset="0.9375" stop-color="#e4eebd"/><stop offset="0.9688" stop-color="#ecf2c5"/><stop offset="1.0000" stop-color="#f1f5cd"/></linearGradient>
<linearGradient id="b0"><stop offset="0" stop-color="#eff4ca"/><stop offset="1" stop-color="#eff4ca"/></linearGradient><linearGradient id="b1"><stop offset="0" stop-color="#eff4ca"/><stop offset="1" stop-color="#eff4ca"/></linearGradient><linearGradient id="b2"><stop offset="0" stop-color="#eff4ca"/><stop offset="1" stop-color="#eff4ca"/></linearGradient><linearGradient id="b3"><stop offset="0" stop-color="#eff4ca"/><stop offset="1" stop-color="#eff4ca"/></linearGradient><linearGradient id="b4"><stop offset="0" stop-color="#eff4ca"/><stop offset="1" stop-color="#eff4ca"/></linearGradient><linearGradient id="b5"><stop offset="0" stop-color="#eff4ca"/><stop offset="1" stop-color="#eff4ca"/></linearGradient><linearGradient id="b6"><stop offset="0" stop-color="#eff4ca"/><stop offset="1" stop-color="#eff4ca"/></linearGradient><linearGradient id="b7"><stop offset="0" stop-color="#eff4ca"/><stop offset="1" stop-color="#eff4ca"/></linearGradient><linearGradient id="b8"><stop offset="0" stop-color="#eff4ca"/><stop offset="1" stop-color="#eff4ca"/></linearGradient><linearGradient id="b9"><stop offset="0" stop-color="#eff4ca"/><stop offset="1" stop-color="#eff4ca"/></linearGradient><linearGradient id="b10"><stop offset="0" stop-color="#eff4ca"/><stop offset="1" stop-color="#eff4ca"/></linearGradient><linearGradient id="b11"><stop offset="0" stop-color="#eff4ca"/><stop offset="0.303" stop-color="#eef3c7"/><stop offset="1" stop-color="#eff4ca"/></linearGradient><linearGradient id="b12"><stop offset="0" stop-color="#eff4ca"/><stop offset="0.303" stop-color="#ecf2c5"/><stop offset="1" stop-color="#eff3c9"/></linearGradient><linearGradient id="b13"><stop offset="0" stop-color="#eff4ca"/><stop offset="0.101" stop-color="#eff4ca"/><stop offset="0.303" stop-color="#ebf1c4"/><stop offset="1" stop-color="#eff3c9"/></linearGradient><linearGradient id="b14"><stop offset="0" stop-color="#eff4ca"/><stop offset="0.101" stop-color="#eff4ca"/><stop offset="0.303" stop-color="#ebf1c4"/><stop offset="1" stop-color="#eff3c9"/></linearGradient><linearGradient id="b15"><stop offset="0" stop-color="#eff4ca"/><stop offset="0.303" stop-color="#ecf2c5"/><stop offset="1" stop-color="#eff3c9"/></linearGradient><linearGradient id="b16"><stop offset="0" stop-color="#eff4ca"/><stop offset="0.303" stop-color="#eef3c7"/><stop offset="1" stop-color="#eff4ca"/></linearGradient><linearGradient id="b17"><stop offset="0" stop-color="#eff4ca"/><stop offset="1" stop-color="#eff4ca"/></linearGradient><linearGradient id="b18"><stop offset="0" stop-color="#eff4ca"/><stop offset="1" stop-color="#eff4ca"/></linearGradient><linearGradient id="b19"><stop offset="0" stop-color="#eff4ca"/><stop offset="1" stop-color="#eff4ca"/></linearGradient><linearGradient id="b20"><stop offset="0" stop-color="#eff4ca"/><stop offset="1" stop-color="#eff4ca"/></linearGradient><linearGradient id="b21"><stop offset="0" stop-color="#eff4ca"/><stop offset="1" stop-color="#eff4ca"/></linearGradient><linearGradient id="b22"><stop offset="0" stop-color="#eff4ca"/><stop offset="1" stop-color="#eff4ca"/></linearGradient><linearGradient id="b23"><stop offset="0" stop-color="#eff4ca"/><stop offset="1" stop-color="#eff4ca"/></linearGradient><linearGradient id="b24"><stop offset="0" stop-color="#eff4ca"/><stop offset="1" stop-color="#eff4ca"/></linearGradient><linearGradient id="b25"><stop offset="0" stop-color="#eff4ca"/><stop offset="1" stop-color="#eff4c9"/></linearGradient><linearGradient id="b26"><stop offset="0" stop-color="#eff4ca"/><stop offset="0.601" stop-color="#eff4ca"/><stop offset="1" stop-color="#ebf1c4"/></linearGradient><linearGradient id="b27"><stop offset="0" stop-color="#eff4ca"/><stop offset="0.601" stop-color="#eff4ca"/><stop offset="1" stop-color="#dfebb8"/></linearGradient><linearGradient id="b28"><stop offset="0" stop-color="#eff4ca"/><stop offset="0.601" stop-color="#eff4ca"/><stop offset="1" stop-color="#dfebb8"/></linearGradient><linearGradient id="b29"><stop offset="0" stop-color="#eff4ca"/><stop offset="0.601" stop-color="#eff4ca"/><stop offset="1" stop-color="#ebf1c4"/></linearGradient><linearGradient id="b30"><stop offset="0" stop-color="#eff4ca"/><stop offset="1" stop-color="#eff4c9"/></linearGradient><linearGradient id="b31"><stop offset="0" stop-color="#eff4ca"/><stop offset="1" stop-color="#eff4ca"/></linearGradient><linearGradient id="b32"><stop offset="0" stop-color="#eff4ca"/><stop offset="1" stop-color="#eff4ca"/></linearGradient><linearGradient id="b33"><stop offset="0" stop-color="#eff4ca"/><stop offset="1" stop-color="#eff4ca"/></linearGradient><linearGradient id="b34"><stop offset="0" stop-color="#eff4ca"/><stop offset="1" stop-color="#eff4ca"/></linearGradient><linearGradient id="b35"><stop offset="0" stop-color="#eff4ca"/><stop offset="1" stop-color="#eff4ca"/></linearGradient><linearGradient id="b36"><stop offset="0" stop-color="#eff4ca"/><stop offset="1" stop-color="#eff4ca"/></linearGradient><linearGradient id="b37"><stop offset="0" stop-color="#eff4ca"/><stop offset="1" stop-color="#eff4ca"/></linearGradient><linearGradient id="b38"><stop offset="0" stop-color="#eff4ca"/><stop offset="1" stop-color="#eff4ca"/></linearGradient><linearGradient id="b39"><stop offset="0" stop-color="#eff4ca"/><stop offset="1" stop-color="#eff3c9"/></linearGradient><linearGradient id="b40"><stop offset="0" stop-color="#eff4ca"/><stop offset="1" stop-color="#edf3c7"/></linearGradient><linearGradient id="b41"><stop offset="0" stop-color="#eff4ca"/><stop offset="0.303" stop-color="#eff4ca"/><stop offset="0.702" stop-color="#eaf1c3"/><stop offset="1" stop-color="#ebf1c4"/></linearGradient><linearGradient id="b42"><stop offset="0" stop-color="#eff4ca"/><stop offset="0.298" stop-color="#eff4ca"/><stop offset="0.702" stop-color="#e8efc0"/><stop offset="1" stop-color="#eaf0c2"/></linearGradient><linearGradient id="b43"><stop offset="0" stop-color="#eff4ca"/><stop offset="0.303" stop-color="#eff4ca"/><stop offset="0.702" stop-color="#eaf0c2"/><stop offset="1" stop-color="#ebf1c3"/></linearGradient><linearGradient id="b44"><stop offset="0" stop-color="#eff4ca"/><stop offset="1" stop-color="#edf2c6"/></linearGradient><linearGradient id="b45"><stop offset="0" stop-color="#eff4ca"/><stop offset="1" stop-color="#ecf2c5"/></linearGradient><linearGradient id="b46"><stop offset="0" stop-color="#eff4ca"/><stop offset="0.409" stop-color="#eff4c9"/><stop offset="0.635" stop-color="#ebf1c3"/><stop offset="0.75" stop-color="#e4eebd"/><stop offset="0.899" stop-color="#e3edbb"/><stop offset="1" stop-color="#e8efc0"/></linearGradient><linearGradient id="b47"><stop offset="0" stop-color="#eff4ca"/><stop offset="0.351" stop-color="#eff4ca"/><stop offset="0.466" stop-color="#ebf1c3"/><stop offset="0.75" stop-color="#d0e3aa"/><stop offset="0.899" stop-color="#d1e4ac"/><stop offset="1" stop-color="#deebb7"/></linearGradient><linearGradient id="b48"><stop offset="0" stop-color="#eff4ca"/><stop offset="0.346" stop-color="#eff4ca"/><stop offset="0.418" stop-color="#ebf1c3"/><stop offset="0.683" stop-color="#cbe1a6"/><stop offset="0.75" stop-color="#c1dda7"/><stop offset="0.899" stop-color="#c6dfa7"/><stop offset="0.923" stop-color="#cbe1a6"/><stop offset="1" stop-color="#d8e8b2"/></linearGradient><linearGradient id="b49"><stop offset="0" stop-color="#eff4ca"/><stop offset="0.351" stop-color="#eff4ca"/><stop offset="0.447" stop-color="#ebf1c3"/><stop offset="0.75" stop-color="#cce1a6"/><stop offset="0.899" stop-color="#cee3a9"/><stop offset="1" stop-color="#dce9b5"/></linearGradient><linearGradient id="b50"><stop offset="0" stop-color="#eff4ca"/><stop offset="0.399" stop-color="#eff4c9"/><stop offset="0.591" stop-color="#ebf1c3"/><stop offset="0.75" stop-color="#e1ecba"/><stop offset="0.899" stop-color="#dfebb8"/><stop offset="1" stop-color="#e2edbb"/></linearGradient><linearGradient id="b51"><stop offset="0" stop-color="#eff4ca"/><stop offset="0.514" stop-color="#eff4ca"/><stop offset="0.793" stop-color="#ecf2c4"/><stop offset="0.875" stop-color="#e9f0c1"/><stop offset="1" stop-color="#deeab7"/></linearGradient><linearGradient id="b52"><stop offset="0" stop-color="#eff4ca"/><stop offset="0.596" stop-color="#eff4ca"/><stop offset="0.774" stop-color="#ebf1c3"/><stop offset="0.846" stop-color="#e2edbb"/><stop offset="0.904" stop-color="#d7e7b1"/><stop offset="0.952" stop-color="#cbe1a6"/><stop offset="1" stop-color="#bad9a8"/></linearGradient><linearGradient id="b53"><stop offset="0" stop-color="#eff4ca"/><stop offset="0.519" stop-color="#eff3c9"/><stop offset="0.639" stop-color="#ebf1c3"/><stop offset="0.707" stop-color="#e2ecbb"/><stop offset="0.798" stop-color="#cce1a6"/><stop offset="0.851" stop-color="#b9d9a8"/><stop offset="0.894" stop-color="#a5d0ab"/><stop offset="0.938" stop-color="#7fc1aa"/><stop offset="0.962" stop-color="#65b7a9"/><stop offset="1" stop-color="#2eaeb3"/></linearGradient><linearGradient id="b54"><stop offset="0" stop-color="#eff4ca"/><stop offset="0.351" stop-color="#eff4ca"/><stop offset="0.462" stop-color="#ecf2c5"/><stop offset="0.534" stop-color="#e5eebe"/><stop offset="0.639" stop-color="#d1e4ac"/><stop offset="0.673" stop-color="#c9e0a6"/><stop offset="0.755" stop-color="#a2cfab"/><stop offset="0.822" stop-color="#63b6a9"/><stop offset="0.851" stop-color="#3eb0b0"/><stop offset="0.88" stop-color="#11aab8"/><stop offset="0.885" stop-color="#0ca8b9"/><stop offset="0.938" stop-color="#008fc3"/><stop offset="0.981" stop-color="#0e67ac"/><stop offset="1" stop-color="#195aa5"/></linearGradient><linearGradient id="b55"><stop offset="0" stop-color="#eff4ca"/><stop offset="0.346" stop-color="#eff4ca"/><stop offset="0.394" stop-color="#ebf1c3"/><stop offset="0.558" stop-color="#cae1a6"/><stop offset="0.668" stop-color="#a9d2aa"/><stop offset="0.678" stop-color="#a3cfab"/><stop offset="0.74" stop-color="#60b6aa"/><stop offset="0.798" stop-color="#0da9b9"/><stop offset="0.856" stop-color="#0090c4"/><stop offset="0.904" stop-color="#0e67ac"/><stop offset="0.947" stop-color="#244c9e"/><stop offset="0.995" stop-color="#1b2a68"/><stop offset="1" stop-color="#1a2965"/></linearGradient><linearGradient id="b56"><stop offset="0" stop-color="#eff4ca"/><stop offset="0.351" stop-color="#eff4ca"/><stop offset="0.418" stop-color="#ebf1c3"/><stop offset="0.529" stop-color="#dae8b3"/><stop offset="0.591" stop-color="#cbe1a6"/><stop offset="0.668" stop-color="#b5d7a9"/><stop offset="0.697" stop-color="#a5d0ab"/><stop offset="0.76" stop-color="#68b8a9"/><stop offset="0.827" stop-color="#0da8b9"/><stop offset="0.88" stop-color="#0090c4"/><stop offset="0.928" stop-color="#0e68ac"/><stop offset="0.971" stop-color="#254a9d"/><stop offset="1" stop-color="#1f367d"/></linearGradient><linearGradient id="b57"><stop offset="0" stop-color="#eff4ca"/><stop offset="0.457" stop-color="#eef3c9"/><stop offset="0.553" stop-color="#ebf1c3"/><stop offset="0.668" stop-color="#dbe9b4"/><stop offset="0.721" stop-color="#cbe1a6"/><stop offset="0.812" stop-color="#a3cfab"/><stop offset="0.851" stop-color="#83c2aa"/><stop offset="0.88" stop-color="#65b7a9"/><stop offset="0.942" stop-color="#0da9b9"/><stop offset="0.99" stop-color="#0090c4"/><stop offset="1" stop-color="#0388bf"/></linearGradient><linearGradient id="b58"><stop offset="0" stop-color="#eff4ca"/><stop offset="0.529" stop-color="#eff4ca"/><stop offset="0.702" stop-color="#ebf1c3"/><stop offset="0.803" stop-color="#dae9b4"/><stop offset="0.865" stop-color="#cbe1a6"/><stop offset="0.885" stop-color="#c4dea7"/><stop offset="0.957" stop-color="#a6d0ab"/><stop offset="1" stop-color="#7fc1aa"/></linearGradient><linearGradient id="b59"><stop offset="0" stop-color="#eff4ca"/><stop offset="0.529" stop-color="#eff4c9"/><stop offset="0.755" stop-color="#ebf1c3"/><stop offset="0.894" stop-color="#ddeab6"/><stop offset="0.986" stop-color="#cce1a7"/><stop offset="1" stop-color="#c8dfa6"/></linearGradient><linearGradient id="b60"><stop offset="0" stop-color="#eff4ca"/><stop offset="0.351" stop-color="#eff4ca"/><stop offset="0.582" stop-color="#ebf1c3"/><stop offset="0.798" stop-color="#dbe9b4"/><stop offset="1" stop-color="#d1e4ab"/></linearGradient><linearGradient id="b61"><stop offset="0" stop-color="#eff4ca"/><stop offset="0.351" stop-color="#eff4ca"/><stop offset="0.452" stop-color="#ebf1c3"/><stop offset="0.596" stop-color="#deeab7"/><stop offset="0.755" stop-color="#cbe1a6"/><stop offset="0.798" stop-color="#c5dea7"/><stop offset="1" stop-color="#c6dfa7"/></linearGradient><linearGradient id="b62"><stop offset="0" stop-color="#eff4ca"/><stop offset="0.351" stop-color="#eff4ca"/><stop offset="0.433" stop-color="#ebf1c3"/><stop offset="0.707" stop-color="#cbe1a6"/><stop offset="0.798" stop-color="#bddba8"/><stop offset="1" stop-color="#c3dda7"/></linearGradient><linearGradient id="b63"><stop offset="0" stop-color="#eff4ca"/><stop offset="0.351" stop-color="#eff4ca"/><stop offset="0.442" stop-color="#edf2c6"/><stop offset="0.601" stop-color="#e3edbc"/><stop offset="0.798" stop-color="#cfe3aa"/><stop offset="1" stop-color="#d0e3aa"/></linearGradient><linearGradient id="b64"><stop offset="0" stop-color="#eff4ca"/><stop offset="0.462" stop-color="#eff3c9"/><stop offset="0.678" stop-color="#ebf1c3"/><stop offset="0.803" stop-color="#e4eebd"/><stop offset="1" stop-color="#e1ecba"/></linearGradient><linearGradient id="b65"><stop offset="0" stop-color="#eff4ca"/><stop offset="0.514" stop-color="#eff4ca"/><stop offset="1" stop-color="#ebf1c3"/></linearGradient><linearGradient id="b66"><stop offset="0" stop-color="#eff4ca"/><stop offset="0.351" stop-color="#eff4ca"/><stop offset="0.702" stop-color="#eaf1c2"/><stop offset="1" stop-color="#eaf0c2"/></linearGradient><linearGradient id="b67"><stop offset="0" stop-color="#eff4ca"/><stop offset="0.351" stop-color="#eff4ca"/><stop offset="0.702" stop-color="#e4edbc"/><stop offset="1" stop-color="#e7efbf"/></linearGradient><linearGradient id="b68"><stop offset="0" stop-color="#eff4ca"/><stop offset="0.351" stop-color="#eff4ca"/><stop offset="0.702" stop-color="#e9f0c1"/><stop offset="1" stop-color="#eaf0c2"/></linearGradient><linearGradient id="b69"><stop offset="0" stop-color="#eff4ca"/><stop offset="1" stop-color="#eef3c7"/></linearGradient><linearGradient id="b70"><stop offset="0" stop-color="#eff4ca"/><stop offset="1" stop-color="#eff4ca"/></linearGradient><linearGradient id="b71"><stop offset="0" stop-color="#eff4ca"/><stop offset="1" stop-color="#eff4ca"/></linearGradient><linearGradient id="b72"><stop offset="0" stop-color="#eff4ca"/><stop offset="1" stop-color="#eff4ca"/></linearGradient><linearGradient id="b73"><stop offset="0" stop-color="#eff4ca"/><stop offset="1" stop-color="#eff4ca"/></linearGradient><linearGradient id="b74"><stop offset="0" stop-color="#eff4ca"/><stop offset="1" stop-color="#eff4ca"/></linearGradient><linearGradient id="b75"><stop offset="0" stop-color="#eff4ca"/><stop offset="1" stop-color="#eff4ca"/></linearGradient><linearGradient id="b76"><stop offset="0" stop-color="#eff4ca"/><stop offset="1" stop-color="#eff4ca"/></linearGradient><linearGradient id="b77"><stop offset="0" stop-color="#eff4ca"/><stop offset="1" stop-color="#eff4ca"/></linearGradient><linearGradient id="b78"><stop offset="0" stop-color="#eff4ca"/><stop offset="1" stop-color="#eff4ca"/></linearGradient><linearGradient id="b79"><stop offset="0" stop-color="#eff4ca"/><stop offset="1" stop-color="#eff4ca"/></linearGradient><linearGradient id="b80"><stop offset="0" stop-color="#eff4ca"/><stop offset="1" stop-color="#eef3c8"/></linearGradient><linearGradient id="b81"><stop offset="0" stop-color="#eff4ca"/><stop offset="0.332" stop-color="#eff4c9"/><stop offset="0.808" stop-color="#e5eebe"/><stop offset="1" stop-color="#e8efc0"/></linearGradient><linearGradient id="b82"><stop offset="0" stop-color="#eff4ca"/><stop offset="0.25" stop-color="#eff4ca"/><stop offset="0.346" stop-color="#ebf1c3"/><stop offset="0.649" stop-color="#cce2a7"/><stop offset="0.851" stop-color="#cee3a9"/><stop offset="1" stop-color="#dae8b3"/></linearGradient><linearGradient id="b83"><stop offset="0" stop-color="#eff4ca"/><stop offset="0.25" stop-color="#eff4ca"/><stop offset="0.317" stop-color="#ebf1c3"/><stop offset="0.572" stop-color="#cbe1a6"/><stop offset="0.649" stop-color="#c0dca7"/><stop offset="0.846" stop-color="#c5dea7"/><stop offset="0.899" stop-color="#cbe1a6"/><stop offset="1" stop-color="#d5e6af"/></linearGradient><linearGradient id="b84"><stop offset="0" stop-color="#eff4ca"/><stop offset="0.25" stop-color="#eff4ca"/><stop offset="0.413" stop-color="#ebf1c3"/><stop offset="0.654" stop-color="#dae8b3"/><stop offset="0.851" stop-color="#d9e8b2"/><stop offset="1" stop-color="#e0ecb9"/></linearGradient><linearGradient id="b85"><stop offset="0" stop-color="#eff4ca"/><stop offset="1" stop-color="#ecf2c5"/></linearGradient><linearGradient id="b86"><stop offset="0" stop-color="#eff4ca"/><stop offset="1" stop-color="#eff3c9"/></linearGradient><linearGradient id="b87"><stop offset="0" stop-color="#eff4ca"/><stop offset="1" stop-color="#eff4ca"/></linearGradient><linearGradient id="b88"><stop offset="0" stop-color="#eff4ca"/><stop offset="1" stop-color="#eff4ca"/></linearGradient><linearGradient id="b89"><stop offset="0" stop-color="#eff4ca"/><stop offset="1" stop-color="#eff4ca"/></linearGradient><linearGradient id="b90"><stop offset="0" stop-color="#eff4ca"/><stop offset="1" stop-color="#eff4ca"/></linearGradient><linearGradient id="b91"><stop offset="0" stop-color="#eff4ca"/><stop offset="1" stop-color="#eff4ca"/></linearGradient><linearGradient id="b92"><stop offset="0" stop-color="#eff4ca"/><stop offset="1" stop-color="#eff4c9"/></linearGradient><linearGradient id="b93"><stop offset="0" stop-color="#eff4ca"/><stop offset="0.5" stop-color="#edf2c7"/><stop offset="1" stop-color="#eff3c9"/></linearGradient><linearGradient id="b94"><stop offset="0" stop-color="#eff4ca"/><stop offset="0.5" stop-color="#ecf2c5"/><stop offset="1" stop-color="#eef3c8"/></linearGradient><linearGradient id="b95"><stop offset="0" stop-color="#eff4ca"/><stop offset="0.202" stop-color="#eff4ca"/><stop offset="0.5" stop-color="#ecf2c5"/><stop offset="1" stop-color="#eef3c8"/></linearGradient><linearGradient id="b96"><stop offset="0" stop-color="#eff4ca"/><stop offset="0.5" stop-color="#edf2c6"/><stop offset="1" stop-color="#eef3c9"/></linearGradient><linearGradient id="b97"><stop offset="0" stop-color="#eff4ca"/><stop offset="0.5" stop-color="#eef3c8"/><stop offset="1" stop-color="#eff3c9"/></linearGradient><linearGradient id="b98"><stop offset="0" stop-color="#eff4ca"/><stop offset="1" stop-color="#eff4ca"/></linearGradient><linearGradient id="b99"><stop offset="0" stop-color="#eff4ca"/><stop offset="1" stop-color="#eff4ca"/></linearGradient><linearGradient id="b100"><stop offset="0" stop-color="#eff4ca"/><stop offset="1" stop-color="#eff4ca"/></linearGradient><linearGradient id="b101"><stop offset="0" stop-color="#eff4ca"/><stop offset="1" stop-color="#eff4ca"/></linearGradient><linearGradient id="b102"><stop offset="0" stop-color="#eff4ca"/><stop offset="1" stop-color="#eff4ca"/></linearGradient><linearGradient id="b103"><stop offset="0" stop-color="#eff4ca"/><stop offset="1" stop-color="#eff4ca"/></linearGradient><linearGradient id="b104"><stop offset="0" stop-color="#eff4ca"/><stop offset="1" stop-color="#eff4ca"/></linearGradient><linearGradient id="b105"><stop offset="0" stop-color="#eff4ca"/><stop offset="1" stop-color="#eff4ca"/></linearGradient><linearGradient id="b106"><stop offset="0" stop-color="#eff4ca"/><stop offset="1" stop-color="#eff4ca"/></linearGradient><linearGradient id="b107"><stop offset="0" stop-color="#eff4ca"/><stop offset="1" stop-color="#eff4ca"/></linearGradient><linearGradient id="b108"><stop offset="0" stop-color="#eff4ca"/><stop offset="1" stop-color="#eff4ca"/></linearGradient><linearGradient id="b109"><stop offset="0" stop-color="#eff4ca"/><stop offset="1" stop-color="#eff4ca"/></linearGradient><linearGradient id="b110"><stop offset="0" stop-color="#eff4ca"/><stop offset="1" stop-color="#eff4ca"/></linearGradient><linearGradient id="b111"><stop offset="0" stop-color="#eff4ca"/><stop offset="1" stop-color="#eff4ca"/></linearGradient>
<linearGradient id="bcb" x1="0" y1="0" x2="0" y2="1"><stop offset="0.0000" stop-color="#1a2965"/><stop offset="0.0312" stop-color="#1d2f72"/><stop offset="0.0625" stop-color="#1f377e"/><stop offset="0.0938" stop-color="#223e8a"/><stop offset="0.1250" stop-color="#244596"/><stop offset="0.1562" stop-color="#234d9f"/><stop offset="0.1875" stop-color="#1d55a3"/><stop offset="0.2188" stop-color="#165ca7"/><stop offset="0.2500" stop-color="#1064aa"/><stop offset="0.2812" stop-color="#0c6eb0"/><stop offset="0.3125" stop-color="#0879b6"/><stop offset="0.3438" stop-color="#0484bd"/><stop offset="0.3750" stop-color="#008fc3"/><stop offset="0.4062" stop-color="#0396c1"/><stop offset="0.4375" stop-color="#069cbf"/><stop offset="0.4688" stop-color="#0aa3bc"/><stop offset="0.5000" stop-color="#0fa9b9"/><stop offset="0.5312" stop-color="#26adb4"/><stop offset="0.5625" stop-color="#3db0b0"/><stop offset="0.5938" stop-color="#54b4ac"/><stop offset="0.6250" stop-color="#69b8a9"/><stop offset="0.6562" stop-color="#7abfaa"/><stop offset="0.6875" stop-color="#8cc6aa"/><stop offset="0.7188" stop-color="#9dcdab"/><stop offset="0.7500" stop-color="#abd2aa"/><stop offset="0.7812" stop-color="#b5d7a9"/><stop offset="0.8125" stop-color="#bfdca8"/><stop offset="0.8438" stop-color="#c9e0a6"/><stop offset="0.8750" stop-color="#d2e5ad"/><stop offset="0.9062" stop-color="#dbe9b5"/><stop offset="0.9375" stop-color="#e4eebd"/><stop offset="0.9688" stop-color="#ecf2c5"/><stop offset="1.0000" stop-color="#f1f5cd"/></linearGradient>
<clipPath id="clip0"><rect x="41.40" y="228.30" width="111.80" height="111.65"/></clipPath>
<clipPath id="clip1"><rect x="209.30" y="228.30" width="111.80" height="111.65"/></clipPath>
<clipPath id="clip2"><rect x="377.40" y="228.30" width="111.80" height="111.65"/></clipPath>
<clipPath id="clip3"><rect x="545.50" y="228.30" width="111.80" height="111.65"/></clipPath></defs>
<g shape-rendering="crispEdges"><rect x="66.00" y="20.90" width="207.60" height="1.35" fill="url(#a0)"/><rect x="66.00" y="21.90" width="207.60" height="1.35" fill="url(#a1)"/><rect x="66.00" y="22.90" width="207.60" height="1.35" fill="url(#a2)"/><rect x="66.00" y="23.90" width="207.60" height="1.35" fill="url(#a3)"/><rect x="66.00" y="24.90" width="207.60" height="1.35" fill="url(#a4)"/><rect x="66.00" y="25.90" width="207.60" height="1.35" fill="url(#a5)"/><rect x="66.00" y="26.89" width="207.60" height="1.35" fill="url(#a6)"/><rect x="66.00" y="27.89" width="207.60" height="1.35" fill="url(#a7)"/><rect x="66.00" y="28.89" width="207.60" height="1.35" fill="url(#a8)"/><rect x="66.00" y="29.89" width="207.60" height="1.35" fill="url(#a9)"/><rect x="66.00" y="30.89" width="207.60" height="1.35" fill="url(#a10)"/><rect x="66.00" y="31.89" width="207.60" height="1.35" fill="url(#a11)"/><rect x="66.00" y="32.89" width="207.60" height="1.35" fill="url(#a12)"/><rect x="66.00" y="33.89" width="207.60" height="1.35" fill="url(#a13)"/><rect x="66.00" y="34.89" width="207.60" height="1.35" fill="url(#a14)"/><rect x="66.00" y="35.89" width="207.60" height="1.35" fill="url(#a15)"/><rect x="66.00" y="36.89" width="207.60" height="1.35" fill="url(#a16)"/><rect x="66.00" y="37.89" width="207.60" height="1.35" fill="url(#a17)"/><rect x="66.00" y="38.88" width="207.60" height="1.35" fill="url(#a18)"/><rect x="66.00" y="39.88" width="207.60" height="1.35" fill="url(#a19)"/><rect x="66.00" y="40.88" width="207.60" height="1.35" fill="url(#a20)"/><rect x="66.00" y="41.88" width="207.60" height="1.35" fill="url(#a21)"/><rect x="66.00" y="42.88" width="207.60" height="1.35" fill="url(#a22)"/><rect x="66.00" y="43.88" width="207.60" height="1.35" fill="url(#a23)"/><rect x="66.00" y="44.88" width="207.60" height="1.35" fill="url(#a24)"/><rect x="66.00" y="45.88" width="207.60" height="1.35" fill="url(#a25)"/><rect x="66.00" y="46.88" width="207.60" height="1.35" fill="url(#a26)"/><rect x="66.00" y="47.88" width="207.60" height="1.35" fill="url(#a27)"/><rect x="66.00" y="48.88" width="207.60" height="1.35" fill="url(#a28)"/><rect x="66.00" y="49.88" width="207.60" height="1.35" fill="url(#a29)"/><rect x="66.00" y="50.87" width="207.60" height="1.35" fill="url(#a30)"/><rect x="66.00" y="51.87" width="207.60" height="1.35" fill="url(#a31)"/><rect x="66.00" y="52.87" width="207.60" height="1.35" fill="url(#a32)"/><rect x="66.00" y="53.87" width="207.60" height="1.35" fill="url(#a33)"/><rect x="66.00" y="54.87" width="207.60" height="1.35" fill="url(#a34)"/><rect x="66.00" y="55.87" width="207.60" height="1.35" fill="url(#a35)"/><rect x="66.00" y="56.87" width="207.60" height="1.35" fill="url(#a36)"/><rect x="66.00" y="57.87" width="207.60" height="1.35" fill="url(#a37)"/><rect x="66.00" y="58.87" width="207.60" height="1.35" fill="url(#a38)"/><rect x="66.00" y="59.87" width="207.60" height="1.35" fill="url(#a39)"/><rect x="66.00" y="60.87" width="207.60" height="1.35" fill="url(#a40)"/><rect x="66.00" y="61.87" width="207.60" height="1.35" fill="url(#a41)"/><rect x="66.00" y="62.86" width="207.60" height="1.35" fill="url(#a42)"/><rect x="66.00" y="63.86" width="207.60" height="1.35" fill="url(#a43)"/><rect x="66.00" y="64.86" width="207.60" height="1.35" fill="url(#a44)"/><rect x="66.00" y="65.86" width="207.60" height="1.35" fill="url(#a45)"/><rect x="66.00" y="66.86" width="207.60" height="1.35" fill="url(#a46)"/><rect x="66.00" y="67.86" width="207.60" height="1.35" fill="url(#a47)"/><rect x="66.00" y="68.86" width="207.60" height="1.35" fill="url(#a48)"/><rect x="66.00" y="69.86" width="207.60" height="1.35" fill="url(#a49)"/><rect x="66.00" y="70.86" width="207.60" height="1.35" fill="url(#a50)"/><rect x="66.00" y="71.86" width="207.60" height="1.35" fill="url(#a51)"/><rect x="66.00" y="72.86" width="207.60" height="1.35" fill="url(#a52)"/><rect x="66.00" y="73.86" width="207.60" height="1.35" fill="url(#a53)"/><rect x="66.00" y="74.85" width="207.60" height="1.35" fill="url(#a54)"/><rect x="66.00" y="75.85" width="207.60" height="1.35" fill="url(#a55)"/><rect x="66.00" y="76.85" width="207.60" height="1.35" fill="url(#a56)"/><rect x="66.00" y="77.85" width="207.60" height="1.35" fill="url(#a57)"/><rect x="66.00" y="78.85" width="207.60" height="1.35" fill="url(#a58)"/><rect x="66.00" y="79.85" width="207.60" height="1.35" fill="url(#a59)"/><rect x="66.00" y="80.85" width="207.60" height="1.35" fill="url(#a60)"/><rect x="66.00" y="81.85" width="207.60" height="1.35" fill="url(#a61)"/><rect x="66.00" y="82.85" width="207.60" height="1.35" fill="url(#a62)"/><rect x="66.00" y="83.85" width="207.60" height="1.35" fill="url(#a63)"/><rect x="66.00" y="84.85" width="207.60" height="1.35" fill="url(#a64)"/><rect x="66.00" y="85.85" width="207.60" height="1.35" fill="url(#a65)"/><rect x="66.00" y="86.84" width="207.60" height="1.35" fill="url(#a66)"/><rect x="66.00" y="87.84" width="207.60" height="1.35" fill="url(#a67)"/><rect x="66.00" y="88.84" width="207.60" height="1.35" fill="url(#a68)"/><rect x="66.00" y="89.84" width="207.60" height="1.35" fill="url(#a69)"/><rect x="66.00" y="90.84" width="207.60" height="1.35" fill="url(#a70)"/><rect x="66.00" y="91.84" width="207.60" height="1.35" fill="url(#a71)"/><rect x="66.00" y="92.84" width="207.60" height="1.35" fill="url(#a72)"/><rect x="66.00" y="93.84" width="207.60" height="1.35" fill="url(#a73)"/><rect x="66.00" y="94.84" width="207.60" height="1.35" fill="url(#a74)"/><rect x="66.00" y="95.84" width="207.60" height="1.35" fill="url(#a75)"/><rect x="66.00" y="96.84" width="207.60" height="1.35" fill="url(#a76)"/><rect x="66.00" y="97.84" width="207.60" height="1.35" fill="url(#a77)"/><rect x="66.00" y="98.83" width="207.60" height="1.35" fill="url(#a78)"/><rect x="66.00" y="99.83" width="207.60" height="1.35" fill="url(#a79)"/><rect x="66.00" y="100.83" width="207.60" height="1.35" fill="url(#a80)"/><rect x="66.00" y="101.83" width="207.60" height="1.35" fill="url(#a81)"/><rect x="66.00" y="102.83" width="207.60" height="1.35" fill="url(#a82)"/><rect x="66.00" y="103.83" width="207.60" height="1.35" fill="url(#a83)"/><rect x="66.00" y="104.83" width="207.60" height="1.35" fill="url(#a84)"/><rect x="66.00" y="105.83" width="207.60" height="1.35" fill="url(#a85)"/><rect x="66.00" y="106.83" width="207.60" height="1.35" fill="url(#a86)"/><rect x="66.00" y="107.83" width="207.60" height="1.35" fill="url(#a87)"/><rect x="66.00" y="108.83" width="207.60" height="1.35" fill="url(#a88)"/><rect x="66.00" y="109.83" width="207.60" height="1.35" fill="url(#a89)"/><rect x="66.00" y="110.82" width="207.60" height="1.35" fill="url(#a90)"/><rect x="66.00" y="111.82" width="207.60" height="1.35" fill="url(#a91)"/><rect x="66.00" y="112.82" width="207.60" height="1.35" fill="url(#a92)"/><rect x="66.00" y="113.82" width="207.60" height="1.35" fill="url(#a93)"/><rect x="66.00" y="114.82" width="207.60" height="1.35" fill="url(#a94)"/><rect x="66.00" y="115.82" width="207.60" height="1.35" fill="url(#a95)"/><rect x="66.00" y="116.82" width="207.60" height="1.35" fill="url(#a96)"/><rect x="66.00" y="117.82" width="207.60" height="1.35" fill="url(#a97)"/><rect x="66.00" y="118.82" width="207.60" height="1.35" fill="url(#a98)"/><rect x="66.00" y="119.82" width="207.60" height="1.35" fill="url(#a99)"/><rect x="66.00" y="120.82" width="207.60" height="1.35" fill="url(#a100)"/><rect x="66.00" y="121.82" width="207.60" height="1.35" fill="url(#a101)"/><rect x="66.00" y="122.81" width="207.60" height="1.35" fill="url(#a102)"/><rect x="66.00" y="123.81" width="207.60" height="1.35" fill="url(#a103)"/><rect x="66.00" y="124.81" width="207.60" height="1.35" fill="url(#a104)"/><rect x="66.00" y="125.81" width="207.60" height="1.35" fill="url(#a105)"/><rect x="66.00" y="126.81" width="207.60" height="1.35" fill="url(#a106)"/><rect x="66.00" y="127.81" width="207.60" height="1.35" fill="url(#a107)"/><rect x="66.00" y="128.81" width="207.60" height="1.35" fill="url(#a108)"/><rect x="66.00" y="129.81" width="207.60" height="1.35" fill="url(#a109)"/><rect x="66.00" y="130.81" width="207.60" height="1.35" fill="url(#a110)"/><rect x="66.00" y="131.81" width="207.60" height="1.35" fill="url(#a111)"/><rect x="66.00" y="132.81" width="207.60" height="1.35" fill="url(#a112)"/><rect x="66.00" y="133.81" width="207.60" height="1.35" fill="url(#a113)"/><rect x="66.00" y="134.80" width="207.60" height="1.35" fill="url(#a114)"/><rect x="66.00" y="135.80" width="207.60" height="1.35" fill="url(#a115)"/><rect x="66.00" y="136.80" width="207.60" height="1.35" fill="url(#a116)"/><rect x="66.00" y="137.80" width="207.60" height="1.35" fill="url(#a117)"/><rect x="66.00" y="138.80" width="207.60" height="1.00" fill="url(#a118)"/></g>
<rect x="66.00" y="20.90" width="207.60" height="118.90" fill="none" stroke="#000" stroke-width="1.40"/>
<path d="M66.00 139.80L66.00 144.80" stroke="#000" stroke-width="1.40"/>
<text transform="translate(66.00 163.40) scale(1.0350 1)" font-size="15.00" text-anchor="middle" fill="#000" stroke="#000" stroke-width="0.30">0.00</text>
<path d="M117.90 139.80L117.90 144.80" stroke="#000" stroke-width="1.40"/>
<text transform="translate(117.90 163.40) scale(1.0350 1)" font-size="15.00" text-anchor="middle" fill="#000" stroke="#000" stroke-width="0.30">0.25</text>
<path d="M169.80 139.80L169.80 144.80" stroke="#000" stroke-width="1.40"/>
<text transform="translate(169.80 163.40) scale(1.0350 1)" font-size="15.00" text-anchor="middle" fill="#000" stroke="#000" stroke-width="0.30">0.50</text>
<path d="M221.70 139.80L221.70 144.80" stroke="#000" stroke-width="1.40"/>
<text transform="translate(221.70 163.40) scale(1.0350 1)" font-size="15.00" text-anchor="middle" fill="#000" stroke="#000" stroke-width="0.30">0.75</text>
<path d="M273.60 139.80L273.60 144.80" stroke="#000" stroke-width="1.40"/>
<text transform="translate(273.60 163.40) scale(1.0350 1)" font-size="15.00" text-anchor="middle" fill="#000" stroke="#000" stroke-width="0.30">1.00</text>
<path d="M61.00 20.90L66.00 20.90" stroke="#000" stroke-width="1.40"/>
<text transform="translate(55.30 27.10) scale(1.0350 1)" font-size="15.00" text-anchor="end" fill="#000" stroke="#000" stroke-width="0.30">1</text>
<path d="M61.00 80.35L66.00 80.35" stroke="#000" stroke-width="1.40"/>
<text transform="translate(55.30 86.55) scale(1.0350 1)" font-size="15.00" text-anchor="end" fill="#000" stroke="#000" stroke-width="0.30">0</text>
<path d="M61.00 139.80L66.00 139.80" stroke="#000" stroke-width="1.40"/>
<text transform="translate(55.30 146.00) scale(1.0350 1)" font-size="15.00" text-anchor="end" fill="#000" stroke="#000" stroke-width="0.30">−1</text>
<text transform="translate(169.80 183.70) scale(1.0350 1)" font-size="15.00" text-anchor="middle" font-style="italic" fill="#000" stroke="#000" stroke-width="0.30">t</text>
<text transform="translate(22.50 80.35) rotate(-90)" font-size="15.00" text-anchor="middle" font-style="italic" fill="#000" stroke="#000" stroke-width="0.30">x</text>
<text transform="translate(169.80 11.60) scale(1.0350 1)" font-size="15.15" text-anchor="middle" fill="#000" stroke="#000" stroke-width="0.30">Prediction <tspan font-style="italic">u</tspan>(<tspan font-style="italic">x</tspan>,<tspan dx="2.58" font-style="italic">t</tspan>)</text>
<rect x="279.20" y="20.90" width="10.50" height="118.90" fill="url(#acb)"/>
<rect x="279.20" y="20.90" width="10.50" height="118.90" fill="none" stroke="#000" stroke-width="1.40"/>
<path d="M289.70 80.13L294.70 80.13" stroke="#000" stroke-width="1.40"/>
<text transform="translate(300.20 86.33) scale(1.0350 1)" font-size="15.00" text-anchor="start" fill="#000" stroke="#000" stroke-width="0.30">0</text>
<path d="M289.70 139.80L294.70 139.80" stroke="#000" stroke-width="1.40"/>
<text transform="translate(300.20 146.00) scale(1.0350 1)" font-size="15.00" text-anchor="start" fill="#000" stroke="#000" stroke-width="0.30">−1</text>
<g shape-rendering="crispEdges"><rect x="425.00" y="31.45" width="194.30" height="1.35" fill="url(#b0)"/><rect x="425.00" y="32.45" width="194.30" height="1.35" fill="url(#b1)"/><rect x="425.00" y="33.45" width="194.30" height="1.35" fill="url(#b2)"/><rect x="425.00" y="34.45" width="194.30" height="1.35" fill="url(#b3)"/><rect x="425.00" y="35.45" width="194.30" height="1.35" fill="url(#b4)"/><rect x="425.00" y="36.45" width="194.30" height="1.35" fill="url(#b5)"/><rect x="425.00" y="37.45" width="194.30" height="1.35" fill="url(#b6)"/><rect x="425.00" y="38.45" width="194.30" height="1.35" fill="url(#b7)"/><rect x="425.00" y="39.45" width="194.30" height="1.35" fill="url(#b8)"/><rect x="425.00" y="40.45" width="194.30" height="1.35" fill="url(#b9)"/><rect x="425.00" y="41.45" width="194.30" height="1.35" fill="url(#b10)"/><rect x="425.00" y="42.45" width="194.30" height="1.35" fill="url(#b11)"/><rect x="425.00" y="43.46" width="194.30" height="1.35" fill="url(#b12)"/><rect x="425.00" y="44.46" width="194.30" height="1.35" fill="url(#b13)"/><rect x="425.00" y="45.46" width="194.30" height="1.35" fill="url(#b14)"/><rect x="425.00" y="46.46" width="194.30" height="1.35" fill="url(#b15)"/><rect x="425.00" y="47.46" width="194.30" height="1.35" fill="url(#b16)"/><rect x="425.00" y="48.46" width="194.30" height="1.35" fill="url(#b17)"/><rect x="425.00" y="49.46" width="194.30" height="1.35" fill="url(#b18)"/><rect x="425.00" y="50.46" width="194.30" height="1.35" fill="url(#b19)"/><rect x="425.00" y="51.46" width="194.30" height="1.35" fill="url(#b20)"/><rect x="425.00" y="52.46" width="194.30" height="1.35" fill="url(#b21)"/><rect x="425.00" y="53.46" width="194.30" height="1.35" fill="url(#b22)"/><rect x="425.00" y="54.46" width="194.30" height="1.35" fill="url(#b23)"/><rect x="425.00" y="55.46" width="194.30" height="1.35" fill="url(#b24)"/><rect x="425.00" y="56.46" width="194.30" height="1.35" fill="url(#b25)"/><rect x="425.00" y="57.46" width="194.30" height="1.35" fill="url(#b26)"/><rect x="425.00" y="58.46" width="194.30" height="1.35" fill="url(#b27)"/><rect x="425.00" y="59.46" width="194.30" height="1.35" fill="url(#b28)"/><rect x="425.00" y="60.46" width="194.30" height="1.35" fill="url(#b29)"/><rect x="425.00" y="61.46" width="194.30" height="1.35" fill="url(#b30)"/><rect x="425.00" y="62.46" width="194.30" height="1.35" fill="url(#b31)"/><rect x="425.00" y="63.46" width="194.30" height="1.35" fill="url(#b32)"/><rect x="425.00" y="64.46" width="194.30" height="1.35" fill="url(#b33)"/><rect x="425.00" y="65.47" width="194.30" height="1.35" fill="url(#b34)"/><rect x="425.00" y="66.47" width="194.30" height="1.35" fill="url(#b35)"/><rect x="425.00" y="67.47" width="194.30" height="1.35" fill="url(#b36)"/><rect x="425.00" y="68.47" width="194.30" height="1.35" fill="url(#b37)"/><rect x="425.00" y="69.47" width="194.30" height="1.35" fill="url(#b38)"/><rect x="425.00" y="70.47" width="194.30" height="1.35" fill="url(#b39)"/><rect x="425.00" y="71.47" width="194.30" height="1.35" fill="url(#b40)"/><rect x="425.00" y="72.47" width="194.30" height="1.35" fill="url(#b41)"/><rect x="425.00" y="73.47" width="194.30" height="1.35" fill="url(#b42)"/><rect x="425.00" y="74.47" width="194.30" height="1.35" fill="url(#b43)"/><rect x="425.00" y="75.47" width="194.30" height="1.35" fill="url(#b44)"/><rect x="425.00" y="76.47" width="194.30" height="1.35" fill="url(#b45)"/><rect x="425.00" y="77.47" width="194.30" height="1.35" fill="url(#b46)"/><rect x="425.00" y="78.47" width="194.30" height="1.35" fill="url(#b47)"/><rect x="425.00" y="79.47" width="194.30" height="1.35" fill="url(#b48)"/><rect x="425.00" y="80.47" width="194.30" height="1.35" fill="url(#b49)"/><rect x="425.00" y="81.47" width="194.30" height="1.35" fill="url(#b50)"/><rect x="425.00" y="82.47" width="194.30" height="1.35" fill="url(#b51)"/><rect x="425.00" y="83.47" width="194.30" height="1.35" fill="url(#b52)"/><rect x="425.00" y="84.47" width="194.30" height="1.35" fill="url(#b53)"/><rect x="425.00" y="85.47" width="194.30" height="1.35" fill="url(#b54)"/><rect x="425.00" y="86.47" width="194.30" height="1.35" fill="url(#b55)"/><rect x="425.00" y="87.47" width="194.30" height="1.35" fill="url(#b56)"/><rect x="425.00" y="88.48" width="194.30" height="1.35" fill="url(#b57)"/><rect x="425.00" y="89.48" width="194.30" height="1.35" fill="url(#b58)"/><rect x="425.00" y="90.48" width="194.30" height="1.35" fill="url(#b59)"/><rect x="425.00" y="91.48" width="194.30" height="1.35" fill="url(#b60)"/><rect x="425.00" y="92.48" width="194.30" height="1.35" fill="url(#b61)"/><rect x="425.00" y="93.48" width="194.30" height="1.35" fill="url(#b62)"/><rect x="425.00" y="94.48" width="194.30" height="1.35" fill="url(#b63)"/><rect x="425.00" y="95.48" width="194.30" height="1.35" fill="url(#b64)"/><rect x="425.00" y="96.48" width="194.30" height="1.35" fill="url(#b65)"/><rect x="425.00" y="97.48" width="194.30" height="1.35" fill="url(#b66)"/><rect x="425.00" y="98.48" width="194.30" height="1.35" fill="url(#b67)"/><rect x="425.00" y="99.48" width="194.30" height="1.35" fill="url(#b68)"/><rect x="425.00" y="100.48" width="194.30" height="1.35" fill="url(#b69)"/><rect x="425.00" y="101.48" width="194.30" height="1.35" fill="url(#b70)"/><rect x="425.00" y="102.48" width="194.30" height="1.35" fill="url(#b71)"/><rect x="425.00" y="103.48" width="194.30" height="1.35" fill="url(#b72)"/><rect x="425.00" y="104.48" width="194.30" height="1.35" fill="url(#b73)"/><rect x="425.00" y="105.48" width="194.30" height="1.35" fill="url(#b74)"/><rect x="425.00" y="106.48" width="194.30" height="1.35" fill="url(#b75)"/><rect x="425.00" y="107.48" width="194.30" height="1.35" fill="url(#b76)"/><rect x="425.00" y="108.48" width="194.30" height="1.35" fill="url(#b77)"/><rect x="425.00" y="109.48" width="194.30" height="1.35" fill="url(#b78)"/><rect x="425.00" y="110.49" width="194.30" height="1.35" fill="url(#b79)"/><rect x="425.00" y="111.49" width="194.30" height="1.35" fill="url(#b80)"/><rect x="425.00" y="112.49" width="194.30" height="1.35" fill="url(#b81)"/><rect x="425.00" y="113.49" width="194.30" height="1.35" fill="url(#b82)"/><rect x="425.00" y="114.49" width="194.30" height="1.35" fill="url(#b83)"/><rect x="425.00" y="115.49" width="194.30" height="1.35" fill="url(#b84)"/><rect x="425.00" y="116.49" width="194.30" height="1.35" fill="url(#b85)"/><rect x="425.00" y="117.49" width="194.30" height="1.35" fill="url(#b86)"/><rect x="425.00" y="118.49" width="194.30" height="1.35" fill="url(#b87)"/><rect x="425.00" y="119.49" width="194.30" height="1.35" fill="url(#b88)"/><rect x="425.00" y="120.49" width="194.30" height="1.35" fill="url(#b89)"/><rect x="425.00" y="121.49" width="194.30" height="1.35" fill="url(#b90)"/><rect x="425.00" y="122.49" width="194.30" height="1.35" fill="url(#b91)"/><rect x="425.00" y="123.49" width="194.30" height="1.35" fill="url(#b92)"/><rect x="425.00" y="124.49" width="194.30" height="1.35" fill="url(#b93)"/><rect x="425.00" y="125.49" width="194.30" height="1.35" fill="url(#b94)"/><rect x="425.00" y="126.49" width="194.30" height="1.35" fill="url(#b95)"/><rect x="425.00" y="127.49" width="194.30" height="1.35" fill="url(#b96)"/><rect x="425.00" y="128.49" width="194.30" height="1.35" fill="url(#b97)"/><rect x="425.00" y="129.49" width="194.30" height="1.35" fill="url(#b98)"/><rect x="425.00" y="130.49" width="194.30" height="1.35" fill="url(#b99)"/><rect x="425.00" y="131.49" width="194.30" height="1.35" fill="url(#b100)"/><rect x="425.00" y="132.50" width="194.30" height="1.35" fill="url(#b101)"/><rect x="425.00" y="133.50" width="194.30" height="1.35" fill="url(#b102)"/><rect x="425.00" y="134.50" width="194.30" height="1.35" fill="url(#b103)"/><rect x="425.00" y="135.50" width="194.30" height="1.35" fill="url(#b104)"/><rect x="425.00" y="136.50" width="194.30" height="1.35" fill="url(#b105)"/><rect x="425.00" y="137.50" width="194.30" height="1.35" fill="url(#b106)"/><rect x="425.00" y="138.50" width="194.30" height="1.35" fill="url(#b107)"/><rect x="425.00" y="139.50" width="194.30" height="1.35" fill="url(#b108)"/><rect x="425.00" y="140.50" width="194.30" height="1.35" fill="url(#b109)"/><rect x="425.00" y="141.50" width="194.30" height="1.35" fill="url(#b110)"/><rect x="425.00" y="142.50" width="194.30" height="1.00" fill="url(#b111)"/></g>
<rect x="425.00" y="31.45" width="194.30" height="112.05" fill="none" stroke="#1a1a1a" stroke-width="1.40"/>
<path d="M425.00 143.50L425.00 148.70" stroke="#1a1a1a" stroke-width="1.40"/>
<text transform="translate(424.40 164.60) scale(1.0600 1)" font-size="13.30" text-anchor="middle" fill="#1a1a1a" stroke="#1a1a1a" stroke-width="0.30">0.00</text>
<path d="M473.57 143.50L473.57 148.70" stroke="#1a1a1a" stroke-width="1.40"/>
<text transform="translate(472.97 164.60) scale(1.0600 1)" font-size="13.30" text-anchor="middle" fill="#1a1a1a" stroke="#1a1a1a" stroke-width="0.30">0.25</text>
<path d="M522.15 143.50L522.15 148.70" stroke="#1a1a1a" stroke-width="1.40"/>
<text transform="translate(521.55 164.60) scale(1.0600 1)" font-size="13.30" text-anchor="middle" fill="#1a1a1a" stroke="#1a1a1a" stroke-width="0.30">0.50</text>
<path d="M570.72 143.50L570.72 148.70" stroke="#1a1a1a" stroke-width="1.40"/>
<text transform="translate(570.12 164.60) scale(1.0600 1)" font-size="13.30" text-anchor="middle" fill="#1a1a1a" stroke="#1a1a1a" stroke-width="0.30">0.75</text>
<path d="M619.30 143.50L619.30 148.70" stroke="#1a1a1a" stroke-width="1.40"/>
<text transform="translate(618.70 164.60) scale(1.0600 1)" font-size="13.30" text-anchor="middle" fill="#1a1a1a" stroke="#1a1a1a" stroke-width="0.30">1.00</text>
<path d="M419.80 31.45L425.00 31.45" stroke="#1a1a1a" stroke-width="1.40"/>
<text transform="translate(414.50 37.00) scale(1.0350 1)" font-size="13.70" text-anchor="end" fill="#1a1a1a" stroke="#1a1a1a" stroke-width="0.30">1</text>
<path d="M419.80 87.47L425.00 87.47" stroke="#1a1a1a" stroke-width="1.40"/>
<text transform="translate(414.50 93.02) scale(1.0350 1)" font-size="13.70" text-anchor="end" fill="#1a1a1a" stroke="#1a1a1a" stroke-width="0.30">0</text>
<path d="M419.80 143.50L425.00 143.50" stroke="#1a1a1a" stroke-width="1.40"/>
<text transform="translate(413.00 148.05) scale(1.0350 1)" font-size="13.70" text-anchor="end" fill="#1a1a1a" stroke="#1a1a1a" stroke-width="0.30">−1</text>
<text transform="translate(522.15 184.00) scale(1.0600 1)" font-size="13.30" text-anchor="middle" font-style="italic" fill="#1a1a1a" stroke="#1a1a1a" stroke-width="0.30">t</text>
<text transform="translate(382.00 88.47) rotate(-90)" font-size="13.30" text-anchor="middle" font-style="italic" fill="#1a1a1a" stroke="#1a1a1a" stroke-width="0.30">x</text>
<text transform="translate(522.15 22.30) scale(1.0350 1)" font-size="14.00" text-anchor="middle" fill="#1a1a1a" stroke="#1a1a1a" stroke-width="0.30">Error <tspan font-style="italic">u</tspan>(<tspan font-style="italic">x</tspan>,<tspan dx="2.38" font-style="italic">t</tspan>)</text>
<rect x="624.30" y="31.45" width="10.40" height="112.05" fill="url(#bcb)"/>
<rect x="624.30" y="31.45" width="10.40" height="112.05" fill="none" stroke="#1a1a1a" stroke-width="1.40"/>
<path d="M634.70 67.07L639.90 67.07" stroke="#1a1a1a" stroke-width="1.40"/>
<text transform="translate(645.40 72.62) scale(1.0350 1)" font-size="13.70" text-anchor="start" fill="#1a1a1a" stroke="#1a1a1a" stroke-width="0.30">0.050</text>
<path d="M634.70 105.28L639.90 105.28" stroke="#1a1a1a" stroke-width="1.40"/>
<text transform="translate(645.40 110.83) scale(1.0350 1)" font-size="13.70" text-anchor="start" fill="#1a1a1a" stroke="#1a1a1a" stroke-width="0.30">0.025</text>
<g clip-path="url(#clip0)" fill="none"><path d="M41.40 339.95L41.84 339.06L42.27 338.15L42.71 337.22L43.15 336.26L43.58 335.29L44.02 334.29L44.46 333.28L44.89 332.25L45.33 331.20L45.77 330.15L46.20 329.08L46.64 328.00L47.08 326.91L47.51 325.82L47.95 324.72L48.39 323.61L48.82 322.50L49.26 321.39L49.70 320.28L50.13 319.17L50.57 318.07L51.01 316.96L51.44 315.86L51.88 314.77L52.32 313.68L52.75 312.60L53.19 311.53L53.63 310.46L54.06 309.41L54.50 308.37L54.94 307.34L55.38 306.33L55.81 305.33L56.25 304.34L56.69 303.37L57.12 302.42L57.56 301.48L58.00 300.57L58.43 299.67L58.87 298.78L59.31 297.92L59.74 297.08L60.18 296.26L60.62 295.46L61.05 294.68L61.49 293.92L61.93 293.18L62.36 292.47L62.80 291.78L63.24 291.11L63.67 290.46L64.11 289.84L64.55 289.24L64.98 288.66L65.42 288.10L65.86 287.57L66.29 287.06L66.73 286.57L67.17 286.11L67.60 285.67L68.04 285.25L68.48 284.85L68.91 284.48L69.35 284.12L69.79 283.79L70.22 283.48L70.66 283.19L71.10 282.92L71.53 282.67L71.97 282.44L72.41 282.23L72.84 282.04L73.28 281.87L73.72 281.71L74.15 281.57L74.59 281.45L75.03 281.35L75.46 281.26L75.90 281.18L76.34 281.12L76.77 281.07L77.21 281.04L77.65 281.02L78.08 281.02L78.52 281.02L78.96 281.04L79.39 281.06L79.83 281.10L80.27 281.14L80.70 281.19L81.14 281.26L81.58 281.32L82.01 281.40L82.45 281.48L82.89 281.57L83.32 281.66L83.76 281.75L84.20 281.85L84.64 281.96L85.07 282.06L85.51 282.17L85.95 282.27L86.38 282.38L86.82 282.49L87.26 282.60L87.69 282.71L88.13 282.82L88.57 282.92L89.00 283.03L89.44 283.13L89.88 283.22L90.31 283.32L90.75 283.41L91.19 283.50L91.62 283.58L92.06 283.66L92.50 283.73L92.93 283.79L93.37 283.86L93.81 283.91L94.24 283.96L94.68 284.00L95.12 284.04L95.55 284.07L95.99 284.09L96.43 284.11L96.86 284.12L97.30 284.12L97.74 284.12L98.17 284.11L98.61 284.09L99.05 284.07L99.48 284.04L99.92 284.00L100.36 283.96L100.79 283.91L101.23 283.86L101.67 283.79L102.10 283.73L102.54 283.66L102.98 283.58L103.41 283.50L103.85 283.41L104.29 283.32L104.72 283.22L105.16 283.13L105.60 283.03L106.03 282.92L106.47 282.82L106.91 282.71L107.34 282.60L107.78 282.49L108.22 282.38L108.65 282.27L109.09 282.17L109.53 282.06L109.96 281.96L110.40 281.85L110.84 281.75L111.27 281.66L111.71 281.57L112.15 281.48L112.59 281.40L113.02 281.32L113.46 281.26L113.90 281.19L114.33 281.14L114.77 281.10L115.21 281.06L115.64 281.04L116.08 281.02L116.52 281.02L116.95 281.02L117.39 281.04L117.83 281.07L118.26 281.12L118.70 281.18L119.14 281.26L119.57 281.35L120.01 281.45L120.45 281.57L120.88 281.71L121.32 281.87L121.76 282.04L122.19 282.23L122.63 282.44L123.07 282.67L123.50 282.92L123.94 283.19L124.38 283.48L124.81 283.79L125.25 284.12L125.69 284.48L126.12 284.85L126.56 285.25L127.00 285.67L127.43 286.11L127.87 286.57L128.31 287.06L128.74 287.57L129.18 288.10L129.62 288.66L130.05 289.24L130.49 289.84L130.93 290.46L131.36 291.11L131.80 291.78L132.24 292.47L132.67 293.18L133.11 293.92L133.55 294.68L133.98 295.46L134.42 296.26L134.86 297.08L135.29 297.92L135.73 298.78L136.17 299.67L136.60 300.57L137.04 301.48L137.48 302.42L137.91 303.37L138.35 304.34L138.79 305.33L139.22 306.33L139.66 307.34L140.10 308.37L140.54 309.41L140.97 310.46L141.41 311.53L141.85 312.60L142.28 313.68L142.72 314.77L143.16 315.86L143.59 316.96L144.03 318.07L144.47 319.17L144.90 320.28L145.34 321.39L145.78 322.50L146.21 323.61L146.65 324.72L147.09 325.82L147.52 326.91L147.96 328.00L148.40 329.08L148.83 330.15L149.27 331.20L149.71 332.25L150.14 333.28L150.58 334.29L151.02 335.29L151.45 336.26L151.89 337.22L152.33 338.15L152.76 339.06L153.20 339.95" stroke="#1c4cac" stroke-width="2.50" stroke-linecap="square"/><path d="M41.40 339.95L41.84 339.06L42.27 338.15L42.71 337.22L43.15 336.26L43.58 335.29L44.02 334.29L44.46 333.28L44.89 332.25L45.33 331.20L45.77 330.15L46.20 329.08L46.64 328.00L47.08 326.91L47.51 325.82L47.95 324.72L48.39 323.61L48.82 322.50L49.26 321.39L49.70 320.28L50.13 319.17L50.57 318.07L51.01 316.96L51.44 315.86L51.88 314.77L52.32 313.68L52.75 312.60L53.19 311.53L53.63 310.46L54.06 309.41L54.50 308.37L54.94 307.34L55.38 306.33L55.81 305.33L56.25 304.34L56.69 303.37L57.12 302.42L57.56 301.48L58.00 300.57L58.43 299.67L58.87 298.78L59.31 297.92L59.74 297.08L60.18 296.26L60.62 295.46L61.05 294.68L61.49 293.92L61.93 293.18L62.36 292.47L62.80 291.78L63.24 291.11L63.67 290.46L64.11 289.84L64.55 289.24L64.98 288.66L65.42 288.10L65.86 287.57L66.29 287.06L66.73 286.57L67.17 286.11L67.60 285.67L68.04 285.25L68.48 284.85L68.91 284.48L69.35 284.12L69.79 283.79L70.22 283.48L70.66 283.19L71.10 282.92L71.53 282.67L71.97 282.44L72.41 282.23L72.84 282.04L73.28 281.87L73.72 281.71L74.15 281.57L74.59 281.45L75.03 281.35L75.46 281.26L75.90 281.18L76.34 281.12L76.77 281.07L77.21 281.04L77.65 281.02L78.08 281.02L78.52 281.02L78.96 281.04L79.39 281.06L79.83 281.10L80.27 281.14L80.70 281.19L81.14 281.26L81.58 281.32L82.01 281.40L82.45 281.48L82.89 281.57L83.32 281.66L83.76 281.75L84.20 281.85L84.64 281.96L85.07 282.06L85.51 282.17L85.95 282.27L86.38 282.38L86.82 282.49L87.26 282.60L87.69 282.71L88.13 282.82L88.57 282.92L89.00 283.03L89.44 283.13L89.88 283.22L90.31 283.32L90.75 283.41L91.19 283.50L91.62 283.58L92.06 283.66L92.50 283.73L92.93 283.79L93.37 283.86L93.81 283.91L94.24 283.96L94.68 284.00L95.12 284.04L95.55 284.07L95.99 284.09L96.43 284.11L96.86 284.12L97.30 284.12L97.74 284.12L98.17 284.11L98.61 284.09L99.05 284.07L99.48 284.04L99.92 284.00L100.36 283.96L100.79 283.91L101.23 283.86L101.67 283.79L102.10 283.73L102.54 283.66L102.98 283.58L103.41 283.50L103.85 283.41L104.29 283.32L104.72 283.22L105.16 283.13L105.60 283.03L106.03 282.92L106.47 282.82L106.91 282.71L107.34 282.60L107.78 282.49L108.22 282.38L108.65 282.27L109.09 282.17L109.53 282.06L109.96 281.96L110.40 281.85L110.84 281.75L111.27 281.66L111.71 281.57L112.15 281.48L112.59 281.40L113.02 281.32L113.46 281.26L113.90 281.19L114.33 281.14L114.77 281.10L115.21 281.06L115.64 281.04L116.08 281.02L116.52 281.02L116.95 281.02L117.39 281.04L117.83 281.07L118.26 281.12L118.70 281.18L119.14 281.26L119.57 281.35L120.01 281.45L120.45 281.57L120.88 281.71L121.32 281.87L121.76 282.04L122.19 282.23L122.63 282.44L123.07 282.67L123.50 282.92L123.94 283.19L124.38 283.48L124.81 283.79L125.25 284.12L125.69 284.48L126.12 284.85L126.56 285.25L127.00 285.67L127.43 286.11L127.87 286.57L128.31 287.06L128.74 287.57L129.18 288.10L129.62 288.66L130.05 289.24L130.49 289.84L130.93 290.46L131.36 291.11L131.80 291.78L132.24 292.47L132.67 293.18L133.11 293.92L133.55 294.68L133.98 295.46L134.42 296.26L134.86 297.08L135.29 297.92L135.73 298.78L136.17 299.67L136.60 300.57L137.04 301.48L137.48 302.42L137.91 303.37L138.35 304.34L138.79 305.33L139.22 306.33L139.66 307.34L140.10 308.37L140.54 309.41L140.97 310.46L141.41 311.53L141.85 312.60L142.28 313.68L142.72 314.77L143.16 315.86L143.59 316.96L144.03 318.07L144.47 319.17L144.90 320.28L145.34 321.39L145.78 322.50L146.21 323.61L146.65 324.72L147.09 325.82L147.52 326.91L147.96 328.00L148.40 329.08L148.83 330.15L149.27 331.20L149.71 332.25L150.14 333.28L150.58 334.29L151.02 335.29L151.45 336.26L151.89 337.22L152.33 338.15L152.76 339.06L153.20 339.95" stroke="#ee262c" stroke-width="2.70" stroke-dasharray="7.9 3.3" stroke-linecap="butt"/></g>
<rect x="41.40" y="228.30" width="111.80" height="111.65" fill="none" stroke="#2a2a2a" stroke-width="1.20"/>
<path d="M41.40 339.95L41.40 344.35" stroke="#222" stroke-width="1.00"/>
<text x="41.40" y="355.80" font-size="10.80" text-anchor="middle" fill="#111" stroke="#111" stroke-width="0.30">−1</text>
<path d="M97.30 339.95L97.30 344.35" stroke="#222" stroke-width="1.00"/>
<text x="97.30" y="355.80" font-size="10.80" text-anchor="middle" fill="#111" stroke="#111" stroke-width="0.30">0</text>
<path d="M153.20 339.95L153.20 344.35" stroke="#222" stroke-width="1.00"/>
<text x="153.20" y="355.80" font-size="10.80" text-anchor="middle" fill="#111" stroke="#111" stroke-width="0.30">1</text>
<path d="M37.00 228.30L41.40 228.30" stroke="#222" stroke-width="1.00"/>
<text x="33.50" y="232.50" font-size="10.80" text-anchor="end" fill="#111" stroke="#111" stroke-width="0.30">1.0</text>
<path d="M37.00 256.21L41.40 256.21" stroke="#222" stroke-width="1.00"/>
<text x="33.50" y="260.41" font-size="10.80" text-anchor="end" fill="#111" stroke="#111" stroke-width="0.30">0.5</text>
<path d="M37.00 284.12L41.40 284.12" stroke="#222" stroke-width="1.00"/>
<text x="33.50" y="288.32" font-size="10.80" text-anchor="end" fill="#111" stroke="#111" stroke-width="0.30">0.0</text>
<path d="M37.00 312.04L41.40 312.04" stroke="#222" stroke-width="1.00"/>
<text x="33.50" y="316.24" font-size="10.80" text-anchor="end" fill="#111" stroke="#111" stroke-width="0.30">−0.5</text>
<path d="M37.00 339.95L41.40 339.95" stroke="#222" stroke-width="1.00"/>
<text x="33.50" y="344.15" font-size="10.80" text-anchor="end" fill="#111" stroke="#111" stroke-width="0.30">−1.0</text>
<text x="97.30" y="370.20" font-size="10.30" text-anchor="middle" font-style="italic" fill="#111" stroke="#111" stroke-width="0.30">x</text>
<text x="97.30" y="221.60" font-size="10.80" text-anchor="middle" fill="#111" stroke="#111" stroke-width="0.30">t = 0.0</text>
<g clip-path="url(#clip1)" fill="none"><path d="M209.30 339.90L209.74 339.87L210.17 339.79L210.61 339.71L211.05 339.62L211.48 339.52L211.92 339.41L212.36 339.29L212.79 339.17L213.23 339.04L213.67 338.90L214.10 338.74L214.54 338.58L214.98 338.40L215.41 338.21L215.85 338.01L216.29 337.79L216.72 337.55L217.16 337.30L217.60 337.02L218.03 336.73L218.47 336.41L218.91 336.06L219.34 335.69L219.78 335.29L220.22 334.85L220.65 334.38L221.09 333.88L221.53 333.33L221.96 332.74L222.40 332.11L222.84 331.43L223.28 330.69L223.71 329.90L224.15 329.05L224.59 328.14L225.02 327.16L225.46 326.12L225.90 325.00L226.33 323.82L226.77 322.57L227.21 321.24L227.64 319.85L228.08 318.38L228.52 316.85L228.95 315.26L229.39 313.62L229.83 311.92L230.26 310.19L230.70 308.42L231.14 306.63L231.57 304.82L232.01 303.01L232.45 301.21L232.88 299.42L233.32 297.66L233.76 295.93L234.19 294.25L234.63 292.61L235.07 291.04L235.50 289.52L235.94 288.07L236.38 286.70L236.81 285.39L237.25 284.16L237.69 283.00L238.12 281.91L238.56 280.90L239.00 279.97L239.43 279.10L239.87 278.31L240.31 277.59L240.74 276.93L241.18 276.34L241.62 275.81L242.05 275.34L242.49 274.93L242.93 274.58L243.36 274.27L243.80 274.02L244.24 273.82L244.67 273.67L245.11 273.56L245.55 273.50L245.98 273.47L246.42 273.48L246.86 273.53L247.29 273.62L247.73 273.74L248.17 273.88L248.60 274.06L249.04 274.26L249.48 274.49L249.91 274.74L250.35 275.01L250.79 275.30L251.23 275.61L251.66 275.94L252.10 276.27L252.54 276.62L252.97 276.97L253.41 277.34L253.85 277.71L254.28 278.08L254.72 278.46L255.16 278.83L255.59 279.20L256.03 279.57L256.47 279.94L256.90 280.29L257.34 280.64L257.78 280.98L258.21 281.31L258.65 281.62L259.09 281.93L259.52 282.21L259.96 282.48L260.40 282.73L260.83 282.96L261.27 283.18L261.71 283.37L262.14 283.54L262.58 283.69L263.02 283.82L263.45 283.93L263.89 284.01L264.33 284.07L264.76 284.10L265.20 284.12L265.64 284.10L266.07 284.07L266.51 284.01L266.95 283.93L267.38 283.82L267.82 283.69L268.26 283.54L268.69 283.37L269.13 283.18L269.57 282.96L270.00 282.73L270.44 282.48L270.88 282.21L271.31 281.93L271.75 281.62L272.19 281.31L272.62 280.98L273.06 280.64L273.50 280.29L273.93 279.94L274.37 279.57L274.81 279.20L275.24 278.83L275.68 278.46L276.12 278.08L276.55 277.71L276.99 277.34L277.43 276.97L277.86 276.62L278.30 276.27L278.74 275.94L279.18 275.61L279.61 275.30L280.05 275.01L280.49 274.74L280.92 274.49L281.36 274.26L281.80 274.06L282.23 273.88L282.67 273.74L283.11 273.62L283.54 273.53L283.98 273.48L284.42 273.47L284.85 273.50L285.29 273.56L285.73 273.67L286.16 273.82L286.60 274.02L287.04 274.27L287.47 274.58L287.91 274.93L288.35 275.34L288.78 275.81L289.22 276.34L289.66 276.93L290.09 277.59L290.53 278.31L290.97 279.10L291.40 279.97L291.84 280.90L292.28 281.91L292.71 283.00L293.15 284.16L293.59 285.39L294.02 286.70L294.46 288.07L294.90 289.52L295.33 291.04L295.77 292.61L296.21 294.25L296.64 295.93L297.08 297.66L297.52 299.42L297.95 301.21L298.39 303.01L298.83 304.82L299.26 306.63L299.70 308.42L300.14 310.19L300.57 311.92L301.01 313.62L301.45 315.26L301.88 316.85L302.32 318.38L302.76 319.85L303.19 321.24L303.63 322.57L304.07 323.82L304.50 325.00L304.94 326.12L305.38 327.16L305.81 328.14L306.25 329.05L306.69 329.90L307.12 330.69L307.56 331.43L308.00 332.11L308.44 332.74L308.87 333.33L309.31 333.88L309.75 334.38L310.18 334.85L310.62 335.29L311.06 335.69L311.49 336.06L311.93 336.41L312.37 336.73L312.80 337.02L313.24 337.30L313.68 337.55L314.11 337.79L314.55 338.01L314.99 338.21L315.42 338.40L315.86 338.58L316.30 338.74L316.73 338.90L317.17 339.04L317.61 339.17L318.04 339.29L318.48 339.41L318.92 339.52L319.35 339.62L319.79 339.71L320.23 339.79L320.66 339.87L321.10 339.90" stroke="#1c4cac" stroke-width="2.50" stroke-linecap="square"/><path d="M209.30 339.90L209.74 339.87L210.17 339.79L210.61 339.71L211.05 339.62L211.48 339.52L211.92 339.41L212.36 339.29L212.79 339.17L213.23 339.04L213.67 338.90L214.10 338.74L214.54 338.58L214.98 338.40L215.41 338.21L215.85 338.01L216.29 337.79L216.72 337.55L217.16 337.30L217.60 337.02L218.03 336.73L218.47 336.41L218.91 336.06L219.34 335.69L219.78 335.29L220.22 334.85L220.65 334.38L221.09 333.88L221.53 333.33L221.96 332.74L222.40 332.11L222.84 331.43L223.28 330.69L223.71 329.90L224.15 329.05L224.59 328.14L225.02 327.16L225.46 326.12L225.90 325.00L226.33 323.82L226.77 322.57L227.21 321.24L227.64 319.85L228.08 318.38L228.52 316.85L228.95 315.26L229.39 313.62L229.83 311.92L230.26 310.19L230.70 308.42L231.14 306.63L231.57 304.82L232.01 303.01L232.45 301.21L232.88 299.42L233.32 297.66L233.76 295.93L234.19 294.25L234.63 292.61L235.07 291.04L235.50 289.52L235.94 288.07L236.38 286.70L236.81 285.39L237.25 284.16L237.69 283.00L238.12 281.91L238.56 280.90L239.00 279.97L239.43 279.10L239.87 278.31L240.31 277.59L240.74 276.93L241.18 276.34L241.62 275.81L242.05 275.34L242.49 274.93L242.93 274.58L243.36 274.27L243.80 274.02L244.24 273.82L244.67 273.67L245.11 273.56L245.55 273.50L245.98 273.47L246.42 273.48L246.86 273.53L247.29 273.62L247.73 273.74L248.17 273.88L248.60 274.06L249.04 274.26L249.48 274.49L249.91 274.74L250.35 275.01L250.79 275.30L251.23 275.61L251.66 275.94L252.10 276.27L252.54 276.62L252.97 276.97L253.41 277.34L253.85 277.71L254.28 278.08L254.72 278.46L255.16 278.83L255.59 279.20L256.03 279.57L256.47 279.94L256.90 280.29L257.34 280.64L257.78 280.98L258.21 281.31L258.65 281.62L259.09 281.93L259.52 282.21L259.96 282.48L260.40 282.73L260.83 282.96L261.27 283.18L261.71 283.37L262.14 283.54L262.58 283.69L263.02 283.82L263.45 283.93L263.89 284.01L264.33 284.07L264.76 284.10L265.20 284.12L265.64 284.10L266.07 284.07L266.51 284.01L266.95 283.93L267.38 283.82L267.82 283.69L268.26 283.54L268.69 283.37L269.13 283.18L269.57 282.96L270.00 282.73L270.44 282.48L270.88 282.21L271.31 281.93L271.75 281.62L272.19 281.31L272.62 280.98L273.06 280.64L273.50 280.29L273.93 279.94L274.37 279.57L274.81 279.20L275.24 278.83L275.68 278.46L276.12 278.08L276.55 277.71L276.99 277.34L277.43 276.97L277.86 276.62L278.30 276.27L278.74 275.94L279.18 275.61L279.61 275.30L280.05 275.01L280.49 274.74L280.92 274.49L281.36 274.26L281.80 274.06L282.23 273.88L282.67 273.74L283.11 273.62L283.54 273.53L283.98 273.48L284.42 273.47L284.85 273.50L285.29 273.56L285.73 273.67L286.16 273.82L286.60 274.02L287.04 274.27L287.47 274.58L287.91 274.93L288.35 275.34L288.78 275.81L289.22 276.34L289.66 276.93L290.09 277.59L290.53 278.31L290.97 279.10L291.40 279.97L291.84 280.90L292.28 281.91L292.71 283.00L293.15 284.16L293.59 285.39L294.02 286.70L294.46 288.07L294.90 289.52L295.33 291.04L295.77 292.61L296.21 294.25L296.64 295.93L297.08 297.66L297.52 299.42L297.95 301.21L298.39 303.01L298.83 304.82L299.26 306.63L299.70 308.42L300.14 310.19L300.57 311.92L301.01 313.62L301.45 315.26L301.88 316.85L302.32 318.38L302.76 319.85L303.19 321.24L303.63 322.57L304.07 323.82L304.50 325.00L304.94 326.12L305.38 327.16L305.81 328.14L306.25 329.05L306.69 329.90L307.12 330.69L307.56 331.43L308.00 332.11L308.44 332.74L308.87 333.33L309.31 333.88L309.75 334.38L310.18 334.85L310.62 335.29L311.06 335.69L311.49 336.06L311.93 336.41L312.37 336.73L312.80 337.02L313.24 337.30L313.68 337.55L314.11 337.79L314.55 338.01L314.99 338.21L315.42 338.40L315.86 338.58L316.30 338.74L316.73 338.90L317.17 339.04L317.61 339.17L318.04 339.29L318.48 339.41L318.92 339.52L319.35 339.62L319.79 339.71L320.23 339.79L320.66 339.87L321.10 339.90" stroke="#ee262c" stroke-width="2.70" stroke-dasharray="7.9 3.3" stroke-linecap="butt"/></g>
<rect x="209.30" y="228.30" width="111.80" height="111.65" fill="none" stroke="#2a2a2a" stroke-width="1.20"/>
<path d="M209.30 339.95L209.30 344.35" stroke="#222" stroke-width="1.00"/>
<text x="209.30" y="355.80" font-size="10.80" text-anchor="middle" fill="#111" stroke="#111" stroke-width="0.30">−1</text>
<path d="M265.20 339.95L265.20 344.35" stroke="#222" stroke-width="1.00"/>
<text x="265.20" y="355.80" font-size="10.80" text-anchor="middle" fill="#111" stroke="#111" stroke-width="0.30">0</text>
<path d="M321.10 339.95L321.10 344.35" stroke="#222" stroke-width="1.00"/>
<text x="321.10" y="355.80" font-size="10.80" text-anchor="middle" fill="#111" stroke="#111" stroke-width="0.30">1</text>
<path d="M204.90 228.30L209.30 228.30" stroke="#222" stroke-width="1.00"/>
<text x="201.40" y="232.50" font-size="10.80" text-anchor="end" fill="#111" stroke="#111" stroke-width="0.30">1.0</text>
<path d="M204.90 256.21L209.30 256.21" stroke="#222" stroke-width="1.00"/>
<text x="201.40" y="260.41" font-size="10.80" text-anchor="end" fill="#111" stroke="#111" stroke-width="0.30">0.5</text>
<path d="M204.90 284.12L209.30 284.12" stroke="#222" stroke-width="1.00"/>
<text x="201.40" y="288.32" font-size="10.80" text-anchor="end" fill="#111" stroke="#111" stroke-width="0.30">0.0</text>
<path d="M204.90 312.04L209.30 312.04" stroke="#222" stroke-width="1.00"/>
<text x="201.40" y="316.24" font-size="10.80" text-anchor="end" fill="#111" stroke="#111" stroke-width="0.30">−0.5</text>
<path d="M204.90 339.95L209.30 339.95" stroke="#222" stroke-width="1.00"/>
<text x="201.40" y="344.15" font-size="10.80" text-anchor="end" fill="#111" stroke="#111" stroke-width="0.30">−1.0</text>
<text x="265.20" y="370.20" font-size="10.30" text-anchor="middle" font-style="italic" fill="#111" stroke="#111" stroke-width="0.30">x</text>
<text x="265.20" y="221.60" font-size="10.80" text-anchor="middle" fill="#111" stroke="#111" stroke-width="0.30">t = 0.25</text>
<g clip-path="url(#clip2)" fill="none"><path d="M377.40 339.94L377.84 339.94L378.27 339.94L378.71 339.93L379.15 339.92L379.58 339.91L380.02 339.90L380.46 339.90L380.89 339.88L381.33 339.87L381.77 339.86L382.20 339.85L382.64 339.83L383.08 339.82L383.51 339.80L383.95 339.78L384.39 339.76L384.82 339.74L385.26 339.72L385.70 339.69L386.13 339.66L386.57 339.63L387.01 339.60L387.44 339.56L387.88 339.52L388.32 339.47L388.75 339.42L389.19 339.36L389.63 339.30L390.06 339.23L390.50 339.15L390.94 339.07L391.38 338.97L391.81 338.86L392.25 338.74L392.69 338.60L393.12 338.44L393.56 338.26L394.00 338.06L394.43 337.83L394.87 337.56L395.31 337.25L395.74 336.90L396.18 336.49L396.62 336.01L397.05 335.45L397.49 334.81L397.93 334.05L398.36 333.16L398.80 332.11L399.24 330.88L399.67 329.43L400.11 327.73L400.55 325.75L400.98 323.44L401.42 320.77L401.86 317.73L402.29 314.31L402.73 310.53L403.17 306.43L403.60 302.09L404.04 297.60L404.48 293.07L404.91 288.62L405.35 284.34L405.79 280.31L406.22 276.59L406.66 273.20L407.10 270.15L407.53 267.45L407.97 265.06L408.41 262.97L408.84 261.15L409.28 259.57L409.72 258.21L410.15 257.05L410.59 256.07L411.03 255.25L411.46 254.56L411.90 254.01L412.34 253.57L412.77 253.24L413.21 253.01L413.65 252.87L414.08 252.81L414.52 252.84L414.96 252.94L415.39 253.12L415.83 253.37L416.27 253.68L416.70 254.06L417.14 254.51L417.58 255.02L418.01 255.60L418.45 256.23L418.89 256.92L419.32 257.67L419.76 258.48L420.20 259.34L420.64 260.24L421.07 261.20L421.51 262.19L421.95 263.23L422.38 264.30L422.82 265.39L423.26 266.51L423.69 267.65L424.13 268.79L424.57 269.94L425.00 271.09L425.44 272.22L425.88 273.33L426.31 274.42L426.75 275.48L427.19 276.49L427.62 277.46L428.06 278.39L428.50 279.25L428.93 280.05L429.37 280.79L429.81 281.46L430.24 282.06L430.68 282.58L431.12 283.03L431.55 283.40L431.99 283.69L432.43 283.89L432.86 284.02L433.30 284.06L433.74 284.02L434.17 283.89L434.61 283.69L435.05 283.40L435.48 283.03L435.92 282.58L436.36 282.06L436.79 281.46L437.23 280.79L437.67 280.05L438.10 279.25L438.54 278.39L438.98 277.46L439.41 276.49L439.85 275.48L440.29 274.42L440.72 273.33L441.16 272.22L441.60 271.09L442.03 269.94L442.47 268.79L442.91 267.65L443.34 266.51L443.78 265.39L444.22 264.30L444.65 263.23L445.09 262.19L445.53 261.20L445.96 260.24L446.40 259.34L446.84 258.48L447.27 257.67L447.71 256.92L448.15 256.23L448.59 255.60L449.02 255.02L449.46 254.51L449.90 254.06L450.33 253.68L450.77 253.37L451.21 253.12L451.64 252.94L452.08 252.84L452.52 252.81L452.95 252.87L453.39 253.01L453.83 253.24L454.26 253.57L454.70 254.01L455.14 254.56L455.57 255.25L456.01 256.07L456.45 257.05L456.88 258.21L457.32 259.57L457.76 261.15L458.19 262.97L458.63 265.06L459.07 267.45L459.50 270.15L459.94 273.20L460.38 276.59L460.81 280.31L461.25 284.34L461.69 288.62L462.12 293.07L462.56 297.60L463.00 302.09L463.43 306.43L463.87 310.53L464.31 314.31L464.74 317.73L465.18 320.77L465.62 323.44L466.05 325.75L466.49 327.73L466.93 329.43L467.36 330.88L467.80 332.11L468.24 333.16L468.67 334.05L469.11 334.81L469.55 335.45L469.98 336.01L470.42 336.49L470.86 336.90L471.29 337.25L471.73 337.56L472.17 337.83L472.60 338.06L473.04 338.26L473.48 338.44L473.91 338.60L474.35 338.74L474.79 338.86L475.23 338.97L475.66 339.07L476.10 339.15L476.54 339.23L476.97 339.30L477.41 339.36L477.85 339.42L478.28 339.47L478.72 339.52L479.16 339.56L479.59 339.60L480.03 339.63L480.47 339.66L480.90 339.69L481.34 339.72L481.78 339.74L482.21 339.76L482.65 339.78L483.09 339.80L483.52 339.82L483.96 339.83L484.40 339.85L484.83 339.86L485.27 339.87L485.71 339.88L486.14 339.90L486.58 339.90L487.02 339.91L487.45 339.92L487.89 339.93L488.33 339.94L488.76 339.94L489.20 339.94" stroke="#1c4cac" stroke-width="2.50" stroke-linecap="square"/><path d="M377.40 339.94L377.84 339.94L378.27 339.94L378.71 339.93L379.15 339.92L379.58 339.91L380.02 339.90L380.46 339.90L380.89 339.88L381.33 339.87L381.77 339.86L382.20 339.85L382.64 339.83L383.08 339.82L383.51 339.80L383.95 339.78L384.39 339.76L384.82 339.74L385.26 339.72L385.70 339.69L386.13 339.66L386.57 339.63L387.01 339.60L387.44 339.56L387.88 339.52L388.32 339.47L388.75 339.42L389.19 339.36L389.63 339.30L390.06 339.23L390.50 339.15L390.94 339.07L391.38 338.97L391.81 338.86L392.25 338.74L392.69 338.60L393.12 338.44L393.56 338.26L394.00 338.06L394.43 337.83L394.87 337.56L395.31 337.25L395.74 336.90L396.18 336.49L396.62 336.01L397.05 335.45L397.49 334.81L397.93 334.05L398.36 333.16L398.80 332.11L399.24 330.88L399.67 329.43L400.11 327.73L400.55 325.75L400.98 323.44L401.42 320.77L401.86 317.73L402.29 314.31L402.73 310.53L403.17 306.43L403.60 302.09L404.04 297.60L404.48 293.07L404.91 288.62L405.35 284.34L405.79 280.31L406.22 276.59L406.66 273.20L407.10 270.15L407.53 267.45L407.97 265.06L408.41 262.97L408.84 261.15L409.28 259.57L409.72 258.21L410.15 257.05L410.59 256.07L411.03 255.25L411.46 254.56L411.90 254.01L412.34 253.57L412.77 253.24L413.21 253.01L413.65 252.87L414.08 252.81L414.52 252.84L414.96 252.94L415.39 253.12L415.83 253.37L416.27 253.68L416.70 254.06L417.14 254.51L417.58 255.02L418.01 255.60L418.45 256.23L418.89 256.92L419.32 257.67L419.76 258.48L420.20 259.34L420.64 260.24L421.07 261.20L421.51 262.19L421.95 263.23L422.38 264.30L422.82 265.39L423.26 266.51L423.69 267.65L424.13 268.79L424.57 269.94L425.00 271.09L425.44 272.22L425.88 273.33L426.31 274.42L426.75 275.48L427.19 276.49L427.62 277.46L428.06 278.39L428.50 279.25L428.93 280.05L429.37 280.79L429.81 281.46L430.24 282.06L430.68 282.58L431.12 283.03L431.55 283.40L431.99 283.69L432.43 283.89L432.86 284.02L433.30 284.06L433.74 284.02L434.17 283.89L434.61 283.69L435.05 283.40L435.48 283.03L435.92 282.58L436.36 282.06L436.79 281.46L437.23 280.79L437.67 280.05L438.10 279.25L438.54 278.39L438.98 277.46L439.41 276.49L439.85 275.48L440.29 274.42L440.72 273.33L441.16 272.22L441.60 271.09L442.03 269.94L442.47 268.79L442.91 267.65L443.34 266.51L443.78 265.39L444.22 264.30L444.65 263.23L445.09 262.19L445.53 261.20L445.96 260.24L446.40 259.34L446.84 258.48L447.27 257.67L447.71 256.92L448.15 256.23L448.59 255.60L449.02 255.02L449.46 254.51L449.90 254.06L450.33 253.68L450.77 253.37L451.21 253.12L451.64 252.94L452.08 252.84L452.52 252.81L452.95 252.87L453.39 253.01L453.83 253.24L454.26 253.57L454.70 254.01L455.14 254.56L455.57 255.25L456.01 256.07L456.45 257.05L456.88 258.21L457.32 259.57L457.76 261.15L458.19 262.97L458.63 265.06L459.07 267.45L459.50 270.15L459.94 273.20L460.38 276.59L460.81 280.31L461.25 284.34L461.69 288.62L462.12 293.07L462.56 297.60L463.00 302.09L463.43 306.43L463.87 310.53L464.31 314.31L464.74 317.73L465.18 320.77L465.62 323.44L466.05 325.75L466.49 327.73L466.93 329.43L467.36 330.88L467.80 332.11L468.24 333.16L468.67 334.05L469.11 334.81L469.55 335.45L469.98 336.01L470.42 336.49L470.86 336.90L471.29 337.25L471.73 337.56L472.17 337.83L472.60 338.06L473.04 338.26L473.48 338.44L473.91 338.60L474.35 338.74L474.79 338.86L475.23 338.97L475.66 339.07L476.10 339.15L476.54 339.23L476.97 339.30L477.41 339.36L477.85 339.42L478.28 339.47L478.72 339.52L479.16 339.56L479.59 339.60L480.03 339.63L480.47 339.66L480.90 339.69L481.34 339.72L481.78 339.74L482.21 339.76L482.65 339.78L483.09 339.80L483.52 339.82L483.96 339.83L484.40 339.85L484.83 339.86L485.27 339.87L485.71 339.88L486.14 339.90L486.58 339.90L487.02 339.91L487.45 339.92L487.89 339.93L488.33 339.94L488.76 339.94L489.20 339.94" stroke="#ee262c" stroke-width="2.70" stroke-dasharray="7.9 3.3" stroke-linecap="butt"/></g>
<rect x="377.40" y="228.30" width="111.80" height="111.65" fill="none" stroke="#2a2a2a" stroke-width="1.20"/>
<path d="M377.40 339.95L377.40 344.35" stroke="#222" stroke-width="1.00"/>
<text x="377.40" y="355.80" font-size="10.80" text-anchor="middle" fill="#111" stroke="#111" stroke-width="0.30">−1</text>
<path d="M433.30 339.95L433.30 344.35" stroke="#222" stroke-width="1.00"/>
<text x="433.30" y="355.80" font-size="10.80" text-anchor="middle" fill="#111" stroke="#111" stroke-width="0.30">0</text>
<path d="M489.20 339.95L489.20 344.35" stroke="#222" stroke-width="1.00"/>
<text x="489.20" y="355.80" font-size="10.80" text-anchor="middle" fill="#111" stroke="#111" stroke-width="0.30">1</text>
<path d="M373.00 228.30L377.40 228.30" stroke="#222" stroke-width="1.00"/>
<text x="369.50" y="232.50" font-size="10.80" text-anchor="end" fill="#111" stroke="#111" stroke-width="0.30">1.0</text>
<path d="M373.00 256.21L377.40 256.21" stroke="#222" stroke-width="1.00"/>
<text x="369.50" y="260.41" font-size="10.80" text-anchor="end" fill="#111" stroke="#111" stroke-width="0.30">0.5</text>
<path d="M373.00 284.12L377.40 284.12" stroke="#222" stroke-width="1.00"/>
<text x="369.50" y="288.32" font-size="10.80" text-anchor="end" fill="#111" stroke="#111" stroke-width="0.30">0.0</text>
<path d="M373.00 312.04L377.40 312.04" stroke="#222" stroke-width="1.00"/>
<text x="369.50" y="316.24" font-size="10.80" text-anchor="end" fill="#111" stroke="#111" stroke-width="0.30">−0.5</text>
<path d="M373.00 339.95L377.40 339.95" stroke="#222" stroke-width="1.00"/>
<text x="369.50" y="344.15" font-size="10.80" text-anchor="end" fill="#111" stroke="#111" stroke-width="0.30">−1.0</text>
<text x="433.30" y="370.20" font-size="10.30" text-anchor="middle" font-style="italic" fill="#111" stroke="#111" stroke-width="0.30">x</text>
<text x="433.30" y="221.60" font-size="10.80" text-anchor="middle" fill="#111" stroke="#111" stroke-width="0.30">t = 0.50</text>
<g clip-path="url(#clip3)" fill="none"><path d="M545.50 339.95L545.94 339.95L546.37 339.95L546.81 339.95L547.25 339.95L547.68 339.95L548.12 339.95L548.56 339.95L548.99 339.94L549.43 339.94L549.87 339.94L550.30 339.94L550.74 339.94L551.18 339.94L551.61 339.94L552.05 339.94L552.49 339.93L552.92 339.93L553.36 339.93L553.80 339.93L554.23 339.93L554.67 339.92L555.11 339.92L555.54 339.92L555.98 339.91L556.42 339.91L556.85 339.91L557.29 339.90L557.73 339.90L558.16 339.89L558.60 339.88L559.04 339.88L559.48 339.87L559.91 339.86L560.35 339.85L560.79 339.83L561.22 339.82L561.66 339.80L562.10 339.79L562.53 339.76L562.97 339.74L563.41 339.71L563.84 339.68L564.28 339.64L564.72 339.59L565.15 339.53L565.59 339.46L566.03 339.38L566.46 339.27L566.90 339.15L567.34 338.98L567.77 338.78L568.21 338.51L568.65 338.17L569.08 337.71L569.52 337.08L569.96 336.21L570.39 334.97L570.83 333.17L571.27 330.48L571.70 326.41L572.14 320.24L572.58 311.22L573.01 299.14L573.45 285.19L573.89 271.77L574.32 260.81L574.76 252.76L575.20 247.13L575.63 243.23L576.07 240.49L576.51 238.53L576.94 237.09L577.38 236.02L577.82 235.20L578.25 234.58L578.69 234.09L579.13 233.71L579.56 233.41L580.00 233.18L580.44 233.01L580.87 232.88L581.31 232.79L581.75 232.74L582.18 232.72L582.62 232.73L583.06 232.77L583.49 232.83L583.93 232.92L584.37 233.05L584.80 233.20L585.24 233.38L585.68 233.60L586.11 233.85L586.55 234.14L586.99 234.48L587.42 234.87L587.86 235.31L588.30 235.81L588.74 236.39L589.17 237.04L589.61 237.79L590.05 238.63L590.48 239.58L590.92 240.65L591.36 241.86L591.79 243.22L592.23 244.74L592.67 246.42L593.10 248.28L593.54 250.31L593.98 252.50L594.41 254.84L594.85 257.31L595.29 259.88L595.72 262.50L596.16 265.13L596.60 267.73L597.03 270.25L597.47 272.63L597.91 274.85L598.34 276.87L598.78 278.66L599.22 280.20L599.65 281.48L600.09 282.48L600.53 283.19L600.96 283.63L601.40 283.77L601.84 283.63L602.27 283.19L602.71 282.48L603.15 281.48L603.58 280.20L604.02 278.66L604.46 276.87L604.89 274.85L605.33 272.63L605.77 270.25L606.20 267.73L606.64 265.13L607.08 262.50L607.51 259.88L607.95 257.31L608.39 254.84L608.82 252.50L609.26 250.31L609.70 248.28L610.13 246.42L610.57 244.74L611.01 243.22L611.44 241.86L611.88 240.65L612.32 239.58L612.75 238.63L613.19 237.79L613.63 237.04L614.06 236.39L614.50 235.81L614.94 235.31L615.38 234.87L615.81 234.48L616.25 234.14L616.69 233.85L617.12 233.60L617.56 233.38L618.00 233.20L618.43 233.05L618.87 232.92L619.31 232.83L619.74 232.77L620.18 232.73L620.62 232.72L621.05 232.74L621.49 232.79L621.93 232.88L622.36 233.01L622.80 233.18L623.24 233.41L623.67 233.71L624.11 234.09L624.55 234.58L624.98 235.20L625.42 236.02L625.86 237.09L626.29 238.53L626.73 240.49L627.17 243.23L627.60 247.13L628.04 252.76L628.48 260.81L628.91 271.77L629.35 285.19L629.79 299.14L630.22 311.22L630.66 320.24L631.10 326.41L631.53 330.48L631.97 333.17L632.41 334.97L632.84 336.21L633.28 337.08L633.72 337.71L634.15 338.17L634.59 338.51L635.03 338.78L635.46 338.98L635.90 339.15L636.34 339.27L636.77 339.38L637.21 339.46L637.65 339.53L638.08 339.59L638.52 339.64L638.96 339.68L639.39 339.71L639.83 339.74L640.27 339.76L640.70 339.79L641.14 339.80L641.58 339.82L642.01 339.83L642.45 339.85L642.89 339.86L643.32 339.87L643.76 339.88L644.20 339.88L644.64 339.89L645.07 339.90L645.51 339.90L645.95 339.91L646.38 339.91L646.82 339.91L647.26 339.92L647.69 339.92L648.13 339.92L648.57 339.93L649.00 339.93L649.44 339.93L649.88 339.93L650.31 339.93L650.75 339.94L651.19 339.94L651.62 339.94L652.06 339.94L652.50 339.94L652.93 339.94L653.37 339.94L653.81 339.94L654.24 339.95L654.68 339.95L655.12 339.95L655.55 339.95L655.99 339.95L656.43 339.95L656.86 339.95L657.30 339.95" stroke="#1c4cac" stroke-width="2.50" stroke-linecap="square"/><path d="M545.50 339.95L545.94 339.95L546.37 339.95L546.81 339.95L547.25 339.95L547.68 339.95L548.12 339.95L548.56 339.95L548.99 339.94L549.43 339.94L549.87 339.94L550.30 339.94L550.74 339.94L551.18 339.94L551.61 339.94L552.05 339.94L552.49 339.93L552.92 339.93L553.36 339.93L553.80 339.93L554.23 339.93L554.67 339.92L555.11 339.92L555.54 339.92L555.98 339.91L556.42 339.91L556.85 339.91L557.29 339.90L557.73 339.90L558.16 339.89L558.60 339.88L559.04 339.88L559.48 339.87L559.91 339.86L560.35 339.85L560.79 339.83L561.22 339.82L561.66 339.80L562.10 339.79L562.53 339.76L562.97 339.74L563.41 339.71L563.84 339.68L564.28 339.64L564.72 339.59L565.15 339.53L565.59 339.46L566.03 339.38L566.46 339.27L566.90 339.15L567.34 338.98L567.77 338.78L568.21 338.51L568.65 338.17L569.08 337.71L569.52 337.08L569.96 336.21L570.39 334.97L570.83 333.17L571.27 330.48L571.70 326.41L572.14 320.24L572.58 311.22L573.01 299.14L573.45 285.19L573.89 271.77L574.32 260.81L574.76 252.76L575.20 247.13L575.63 243.23L576.07 240.49L576.51 238.53L576.94 237.09L577.38 236.02L577.82 235.20L578.25 234.58L578.69 234.09L579.13 233.71L579.56 233.41L580.00 233.18L580.44 233.01L580.87 232.88L581.31 232.79L581.75 232.74L582.18 232.72L582.62 232.73L583.06 232.77L583.49 232.83L583.93 232.92L584.37 233.05L584.80 233.20L585.24 233.38L585.68 233.60L586.11 233.85L586.55 234.14L586.99 234.48L587.42 234.87L587.86 235.31L588.30 235.81L588.74 236.39L589.17 237.04L589.61 237.79L590.05 238.63L590.48 239.58L590.92 240.65L591.36 241.86L591.79 243.22L592.23 244.74L592.67 246.42L593.10 248.28L593.54 250.31L593.98 252.50L594.41 254.84L594.85 257.31L595.29 259.88L595.72 262.50L596.16 265.13L596.60 267.73L597.03 270.25L597.47 272.63L597.91 274.85L598.34 276.87L598.78 278.66L599.22 280.20L599.65 281.48L600.09 282.48L600.53 283.19L600.96 283.63L601.40 283.77L601.84 283.63L602.27 283.19L602.71 282.48L603.15 281.48L603.58 280.20L604.02 278.66L604.46 276.87L604.89 274.85L605.33 272.63L605.77 270.25L606.20 267.73L606.64 265.13L607.08 262.50L607.51 259.88L607.95 257.31L608.39 254.84L608.82 252.50L609.26 250.31L609.70 248.28L610.13 246.42L610.57 244.74L611.01 243.22L611.44 241.86L611.88 240.65L612.32 239.58L612.75 238.63L613.19 237.79L613.63 237.04L614.06 236.39L614.50 235.81L614.94 235.31L615.38 234.87L615.81 234.48L616.25 234.14L616.69 233.85L617.12 233.60L617.56 233.38L618.00 233.20L618.43 233.05L618.87 232.92L619.31 232.83L619.74 232.77L620.18 232.73L620.62 232.72L621.05 232.74L621.49 232.79L621.93 232.88L622.36 233.01L622.80 233.18L623.24 233.41L623.67 233.71L624.11 234.09L624.55 234.58L624.98 235.20L625.42 236.02L625.86 237.09L626.29 238.53L626.73 240.49L627.17 243.23L627.60 247.13L628.04 252.76L628.48 260.81L628.91 271.77L629.35 285.19L629.79 299.14L630.22 311.22L630.66 320.24L631.10 326.41L631.53 330.48L631.97 333.17L632.41 334.97L632.84 336.21L633.28 337.08L633.72 337.71L634.15 338.17L634.59 338.51L635.03 338.78L635.46 338.98L635.90 339.15L636.34 339.27L636.77 339.38L637.21 339.46L637.65 339.53L638.08 339.59L638.52 339.64L638.96 339.68L639.39 339.71L639.83 339.74L640.27 339.76L640.70 339.79L641.14 339.80L641.58 339.82L642.01 339.83L642.45 339.85L642.89 339.86L643.32 339.87L643.76 339.88L644.20 339.88L644.64 339.89L645.07 339.90L645.51 339.90L645.95 339.91L646.38 339.91L646.82 339.91L647.26 339.92L647.69 339.92L648.13 339.92L648.57 339.93L649.00 339.93L649.44 339.93L649.88 339.93L650.31 339.93L650.75 339.94L651.19 339.94L651.62 339.94L652.06 339.94L652.50 339.94L652.93 339.94L653.37 339.94L653.81 339.94L654.24 339.95L654.68 339.95L655.12 339.95L655.55 339.95L655.99 339.95L656.43 339.95L656.86 339.95L657.30 339.95" stroke="#ee262c" stroke-width="2.70" stroke-dasharray="7.9 3.3" stroke-linecap="butt"/></g>
<rect x="545.50" y="228.30" width="111.80" height="111.65" fill="none" stroke="#2a2a2a" stroke-width="1.20"/>
<path d="M545.50 339.95L545.50 344.35" stroke="#222" stroke-width="1.00"/>
<text x="545.50" y="355.80" font-size="10.80" text-anchor="middle" fill="#111" stroke="#111" stroke-width="0.30">−1</text>
<path d="M601.40 339.95L601.40 344.35" stroke="#222" stroke-width="1.00"/>
<text x="601.40" y="355.80" font-size="10.80" text-anchor="middle" fill="#111" stroke="#111" stroke-width="0.30">0</text>
<path d="M657.30 339.95L657.30 344.35" stroke="#222" stroke-width="1.00"/>
<text x="657.30" y="355.80" font-size="10.80" text-anchor="middle" fill="#111" stroke="#111" stroke-width="0.30">1</text>
<path d="M541.10 228.30L545.50 228.30" stroke="#222" stroke-width="1.00"/>
<text x="537.60" y="232.50" font-size="10.80" text-anchor="end" fill="#111" stroke="#111" stroke-width="0.30">1.0</text>
<path d="M541.10 256.21L545.50 256.21" stroke="#222" stroke-width="1.00"/>
<text x="537.60" y="260.41" font-size="10.80" text-anchor="end" fill="#111" stroke="#111" stroke-width="0.30">0.5</text>
<path d="M541.10 284.12L545.50 284.12" stroke="#222" stroke-width="1.00"/>
<text x="537.60" y="288.32" font-size="10.80" text-anchor="end" fill="#111" stroke="#111" stroke-width="0.30">0.0</text>
<path d="M541.10 312.04L545.50 312.04" stroke="#222" stroke-width="1.00"/>
<text x="537.60" y="316.24" font-size="10.80" text-anchor="end" fill="#111" stroke="#111" stroke-width="0.30">−0.5</text>
<path d="M541.10 339.95L545.50 339.95" stroke="#222" stroke-width="1.00"/>
<text x="537.60" y="344.15" font-size="10.80" text-anchor="end" fill="#111" stroke="#111" stroke-width="0.30">−1.0</text>
<text x="601.40" y="370.20" font-size="10.30" text-anchor="middle" font-style="italic" fill="#111" stroke="#111" stroke-width="0.30">x</text>
<text x="601.40" y="221.60" font-size="10.80" text-anchor="middle" fill="#111" stroke="#111" stroke-width="0.30">t = 0.75</text>
<rect x="303.30" y="367.40" width="92.00" height="35.10" rx="2.50" fill="#fff" stroke="#ccc" stroke-width="0.90"/>
<path d="M306.90 376.10L330.50 376.10" stroke="#1c4cac" stroke-width="2.40"/>
<path d="M307.60 391.60L315.30 391.60" stroke="#ee262c" stroke-width="2.40"/>
<path d="M319.20 391.60L327.20 391.60" stroke="#ee262c" stroke-width="2.40"/>
<text x="337.70" y="380.10" font-size="10.80" text-anchor="start" fill="#111" stroke="#111" stroke-width="0.30">Exact</text>
<text x="337.70" y="395.60" font-size="10.80" text-anchor="start" fill="#111" stroke="#111" stroke-width="0.30">Prediction</text>
</svg>
</body></html>
